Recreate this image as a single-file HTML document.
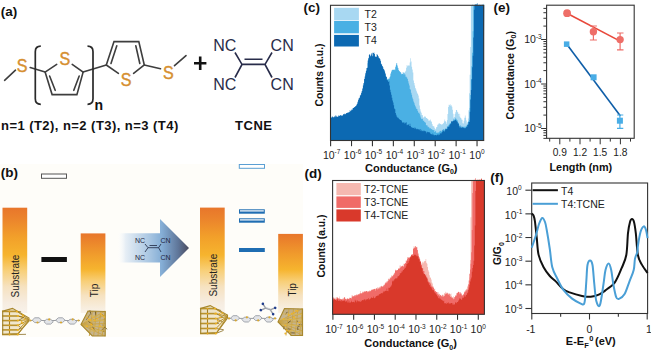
<!DOCTYPE html><html><head><meta charset="utf-8"><style>html,body{margin:0;padding:0;background:#fff;width:651px;height:355px;overflow:hidden}svg{display:block}text{font-family:"Liberation Sans",sans-serif}</style></head><body>
<svg width="651" height="355" viewBox="0 0 651 355">
<defs><linearGradient id="bar" x1="0" y1="0" x2="0" y2="1"><stop offset="0" stop-color="#e8762b"/><stop offset="0.1" stop-color="#eb832c"/><stop offset="0.28" stop-color="#f2a02a"/><stop offset="0.45" stop-color="#f6b42e"/><stop offset="0.6" stop-color="#f8d07a"/><stop offset="0.75" stop-color="#f6e2c0"/><stop offset="0.9" stop-color="#f6ece0"/><stop offset="1" stop-color="#f8f2ea"/></linearGradient><linearGradient id="bar2" x1="0" y1="0" x2="0" y2="1"><stop offset="0" stop-color="#e8762b"/><stop offset="0.25" stop-color="#f09a2c"/><stop offset="0.45" stop-color="#f6b42e"/><stop offset="0.6" stop-color="#f8cf78"/><stop offset="0.78" stop-color="#f6e2c0"/><stop offset="1" stop-color="#f8f2ea"/></linearGradient><linearGradient id="arr" x1="117" y1="0" x2="189" y2="0" gradientUnits="userSpaceOnUse"><stop offset="0" stop-color="#ffffff" stop-opacity="0"/><stop offset="0.12" stop-color="#e6eef5"/><stop offset="0.45" stop-color="#a9c6e2"/><stop offset="0.62" stop-color="#85aed6"/><stop offset="0.85" stop-color="#5f7699"/><stop offset="1" stop-color="#4a4a5e"/></linearGradient></defs>
<rect x="0" y="164" width="303" height="173" fill="#fefdf9"/>
<text x="0.8" y="15.5" font-size="13.5" font-weight="bold" fill="#111">(a)</text>
<g stroke="#3e3e3e" stroke-width="1.6" fill="none" stroke-linecap="round">
<path d="M4.6,80.3 L15.5,70.2"/>
<path d="M30.2,67.6 L45.1,72.1"/>
<path d="M45.1,72.1 L56.7,64.4 M72.2,64.4 L83.1,72.1 L76.9,94.6 L52.1,94.6 L45.1,72.1"/>
<path d="M49.6,76 L55.2,90.3 M79.2,76 L73.8,90.3"/>
<path d="M83.1,72.1 L106.3,65"/>
<path d="M106.3,65 L114,41.6 L138.8,41.6 L144.3,65 L133.6,73.3 M118.4,73.3 L106.3,65"/>
<path d="M111,63.5 L116.8,45.8 M139.8,63.5 L135.8,45.8"/>
<path d="M144.3,65 L160.5,68.8 M174.5,65.7 L186,55.6"/>
</g>
<path d="M40.8,46.2 Q35.3,46.2 35.3,51.7 L35.3,98.8 Q35.3,104.3 40.8,104.3 M87.5,46.2 Q93,46.2 93,51.7 L93,98.8 Q93,104.3 87.5,104.3" stroke="#2a2a2a" stroke-width="1.7" fill="none"/>
<text transform="translate(16.8,71.5) scale(0.92,1)" font-size="17.5" fill="#d68f30" stroke="#d68f30" stroke-width="0.45">S</text>
<text transform="translate(59.5,64.9) scale(0.92,1)" font-size="17.5" fill="#d68f30" stroke="#d68f30" stroke-width="0.45">S</text>
<text transform="translate(120.7,85.6) scale(0.92,1)" font-size="17.5" fill="#d68f30" stroke="#d68f30" stroke-width="0.45">S</text>
<text transform="translate(162.9,78.7) scale(0.92,1)" font-size="17.5" fill="#d68f30" stroke="#d68f30" stroke-width="0.45">S</text>
<text x="94.5" y="109.6" font-size="14" font-weight="bold" fill="#111">n</text>
<text x="1" y="129.8" font-size="13" font-weight="bold" fill="#111" letter-spacing="0.45">n=1 (T2), n=2 (T3), n=3 (T4)</text>
<text x="235" y="130.2" font-size="13" font-weight="bold" fill="#111" letter-spacing="0.55">TCNE</text>
<path d="M194,63.2 L206.4,63.2 M200.2,56.6 L200.2,70" stroke="#111" stroke-width="2.6"/>
<text x="213.2" y="50.6" font-size="16" fill="#282c4a">NC</text>
<text x="270.6" y="50.6" font-size="16" fill="#282c4a">CN</text>
<text x="213.2" y="90.4" font-size="16" fill="#282c4a">NC</text>
<text x="270.6" y="90.4" font-size="16" fill="#282c4a">CN</text>
<path d="M235,52.5 L242,64.4 L235,77.5 M242,64.4 L265,64.4 M272,52.5 L265,64.4 L272,77.5 M244.5,59.3 L262.5,59.3" stroke="#282c4a" stroke-width="1.6" fill="none"/>
<text x="0.8" y="177" font-size="13.5" font-weight="bold" fill="#111">(b)</text>
<rect x="41.5" y="174" width="25" height="4.3" fill="#fff" stroke="#555" stroke-width="1"/>
<rect x="41.4" y="257" width="25.5" height="5" fill="#111"/>
<rect x="2.5" y="207.7" width="24.7" height="105.30000000000001" fill="url(#bar)"/>
<rect x="80.7" y="233.4" width="24.7" height="79.6" fill="url(#bar2)"/>
<rect x="200" y="207.6" width="24.7" height="105.4" fill="url(#bar)"/>
<rect x="278.2" y="233.9" width="24.7" height="79.1" fill="url(#bar2)"/>
<text transform="translate(19.3,297.5) rotate(-90)" font-size="10" fill="#222">Substrate</text>
<text transform="translate(97.6,297.3) rotate(-90)" font-size="10" fill="#222">Tip</text>
<text transform="translate(216.8,296.6) rotate(-90)" font-size="10" fill="#222">Substrate</text>
<text transform="translate(296.2,296.6) rotate(-90)" font-size="10" fill="#222">Tip</text>
<path d="M117,233.3 L160,233.3 L160,219 L189,248 L160,277 L160,262.5 L117,262.5 Z" fill="url(#arr)"/>
<text x="135" y="243" font-size="7" fill="#1e2640">NC</text><text x="160.5" y="243" font-size="7" fill="#1e2640">CN</text>
<text x="135" y="260" font-size="7" fill="#1e2640">NC</text><text x="160.5" y="260" font-size="7" fill="#1e2640">CN</text>
<path d="M145,244 L148,247.7 L145,252 M148,247.7 L158.6,247.7 M161,244 L158.6,247.7 L161,252 M149.5,245.5 L157,245.5" stroke="#1e2640" stroke-width="0.8" fill="none"/>
<rect x="239.3" y="164.5" width="25.2" height="3.8" fill="#fff" stroke="#5a9fd4" stroke-width="1"/>
<rect x="239" y="209.3" width="25.8" height="4.4" fill="#1f6db2"/><rect x="240" y="210.3" width="23.8" height="1.2" fill="#fff"/>
<rect x="239" y="218.3" width="25.8" height="4.4" fill="#1f6db2"/><rect x="240" y="219.3" width="23.8" height="1.2" fill="#fff"/>
<rect x="239" y="248" width="25.8" height="4" fill="#1f6db2"/>
<polygon points="2.0,311.4 12.5,308.4 29.0,318.1 29.0,321.1 18.0,333.5 2.0,334.5" fill="#e6d6a8" opacity="0.55"/><line x1="2.0" y1="311.4" x2="16.9" y2="311.4" stroke="#b8922e" stroke-width="1.6"/><line x1="2.0" y1="316.0" x2="18.0" y2="316.0" stroke="#b8922e" stroke-width="1.6"/><line x1="2.0" y1="320.6" x2="18.0" y2="320.6" stroke="#b8922e" stroke-width="1.6"/><line x1="2.0" y1="325.3" x2="18.0" y2="325.3" stroke="#b8922e" stroke-width="1.6"/><line x1="2.0" y1="329.9" x2="18.0" y2="329.9" stroke="#b8922e" stroke-width="1.6"/><line x1="2.0" y1="334.5" x2="18.0" y2="334.5" stroke="#b8922e" stroke-width="1.6"/><line x1="2.7" y1="310.9" x2="2.7" y2="334.5" stroke="#a0802a" stroke-width="1.1"/><line x1="9.5" y1="310.9" x2="9.5" y2="334.5" stroke="#a0802a" stroke-width="1.1"/><line x1="16.9" y1="311.4" x2="29.0" y2="319.6" stroke="#b8922e" stroke-width="1"/><line x1="16.9" y1="311.4" x2="21.1" y2="311.8" stroke="#8a6e26" stroke-width="0.8"/><line x1="18.0" y1="316.0" x2="29.0" y2="319.6" stroke="#b8922e" stroke-width="1"/><line x1="18.0" y1="316.0" x2="22.8" y2="316.9" stroke="#8a6e26" stroke-width="0.8"/><line x1="18.0" y1="320.6" x2="29.0" y2="319.6" stroke="#b8922e" stroke-width="1"/><line x1="18.0" y1="320.6" x2="24.1" y2="317.2" stroke="#8a6e26" stroke-width="0.8"/><line x1="18.0" y1="325.3" x2="29.0" y2="319.6" stroke="#b8922e" stroke-width="1"/><line x1="18.0" y1="325.3" x2="21.1" y2="328.0" stroke="#8a6e26" stroke-width="0.8"/><line x1="18.0" y1="329.9" x2="29.0" y2="319.6" stroke="#b8922e" stroke-width="1"/><line x1="18.0" y1="329.9" x2="22.3" y2="327.8" stroke="#8a6e26" stroke-width="0.8"/><line x1="18.0" y1="334.5" x2="29.0" y2="319.6" stroke="#b8922e" stroke-width="1"/><line x1="18.0" y1="334.5" x2="26.0" y2="334.3" stroke="#8a6e26" stroke-width="0.8"/><polyline points="2.0,311.4 12.5,308.4 29.0,318.1 29.0,321.1 18.0,333.5 2.0,334.5" fill="none" stroke="#a8862a" stroke-width="1.1"/><circle cx="16.9" cy="311.4" r="1" fill="#f0b420"/><circle cx="9.5" cy="311.4" r="0.9" fill="#e8a820"/><circle cx="18.0" cy="316.0" r="1" fill="#f0b420"/><circle cx="9.5" cy="316.0" r="0.9" fill="#e8a820"/><circle cx="18.0" cy="320.6" r="1" fill="#f0b420"/><circle cx="9.5" cy="320.6" r="0.9" fill="#e8a820"/><circle cx="18.0" cy="325.3" r="1" fill="#f0b420"/><circle cx="9.5" cy="325.3" r="0.9" fill="#e8a820"/><circle cx="18.0" cy="329.9" r="1" fill="#f0b420"/><circle cx="9.5" cy="329.9" r="0.9" fill="#e8a820"/><circle cx="18.0" cy="334.5" r="1" fill="#f0b420"/><circle cx="9.5" cy="334.5" r="0.9" fill="#e8a820"/><circle cx="24.5" cy="319.4" r="0.9" fill="#eab028"/><circle cx="22.8" cy="316.1" r="0.9" fill="#eab028"/><circle cx="22.7" cy="323.3" r="0.9" fill="#eab028"/><circle cx="21.7" cy="322.0" r="0.9" fill="#eab028"/><circle cx="23.0" cy="315.2" r="0.9" fill="#eab028"/>
<polygon points="81.0,324.5 88.0,311.0 105.2,311.5 105.2,336.0 92.3,336.0" fill="#a08444" opacity="0.6"/><line x1="81.0" y1="324.5" x2="105.2" y2="311.0" stroke="#c9a444" stroke-width="0.9"/><line x1="81.0" y1="324.5" x2="105.2" y2="315.2" stroke="#c9a444" stroke-width="0.9"/><line x1="81.0" y1="324.5" x2="105.2" y2="319.3" stroke="#c9a444" stroke-width="0.9"/><line x1="81.0" y1="324.5" x2="105.2" y2="323.5" stroke="#c9a444" stroke-width="0.9"/><line x1="81.0" y1="324.5" x2="105.2" y2="327.7" stroke="#c9a444" stroke-width="0.9"/><line x1="81.0" y1="324.5" x2="105.2" y2="331.8" stroke="#c9a444" stroke-width="0.9"/><line x1="81.0" y1="324.5" x2="105.2" y2="336.0" stroke="#c9a444" stroke-width="0.9"/><line x1="91.1" y1="314.4" x2="89.8" y2="310.2" stroke="#5e4a1c" stroke-width="0.8"/><line x1="88.1" y1="321.2" x2="93.2" y2="324.8" stroke="#5e4a1c" stroke-width="0.8"/><line x1="100.2" y1="317.1" x2="100.6" y2="314.4" stroke="#5e4a1c" stroke-width="0.8"/><line x1="90.0" y1="314.4" x2="86.5" y2="319.6" stroke="#5e4a1c" stroke-width="0.8"/><line x1="101.3" y1="330.6" x2="104.9" y2="326.9" stroke="#5e4a1c" stroke-width="0.8"/><line x1="92.3" y1="326.4" x2="95.1" y2="330.7" stroke="#5e4a1c" stroke-width="0.8"/><line x1="102.1" y1="314.0" x2="103.4" y2="316.1" stroke="#5e4a1c" stroke-width="0.8"/><line x1="95.7" y1="316.1" x2="95.4" y2="311.2" stroke="#5e4a1c" stroke-width="0.8"/><line x1="103.1" y1="331.9" x2="103.6" y2="329.5" stroke="#5e4a1c" stroke-width="0.8"/><line x1="102.6" y1="325.2" x2="107.2" y2="329.3" stroke="#5e4a1c" stroke-width="0.8"/><line x1="92.3" y1="311.3" x2="89.3" y2="336.0" stroke="#c9a444" stroke-width="0.9"/><line x1="96.6" y1="311.3" x2="93.6" y2="336.0" stroke="#c9a444" stroke-width="0.9"/><line x1="100.9" y1="311.3" x2="97.9" y2="336.0" stroke="#c9a444" stroke-width="0.9"/><line x1="105.2" y1="311.3" x2="102.2" y2="336.0" stroke="#c9a444" stroke-width="0.9"/><line x1="86.4" y1="316.0" x2="105.2" y2="316.0" stroke="#d8b450" stroke-width="0.9"/><line x1="83.8" y1="321.0" x2="105.2" y2="320.7" stroke="#d8b450" stroke-width="0.9"/><line x1="83.5" y1="326.0" x2="105.2" y2="326.4" stroke="#d8b450" stroke-width="0.9"/><line x1="88.4" y1="331.0" x2="105.2" y2="330.7" stroke="#d8b450" stroke-width="0.9"/><polygon points="81.0,324.5 88.0,311.0 105.2,311.5 105.2,336.0 92.3,336.0" fill="none" stroke="#a8882e" stroke-width="1.2"/><circle cx="88.9" cy="319.4" r="0.9" fill="#f0b428"/><circle cx="100.8" cy="313.9" r="0.9" fill="#f0b428"/><circle cx="86.8" cy="326.2" r="0.9" fill="#f0b428"/><circle cx="91.1" cy="324.2" r="0.9" fill="#f0b428"/><circle cx="94.6" cy="320.2" r="0.9" fill="#f0b428"/><circle cx="104.2" cy="317.1" r="0.9" fill="#f0b428"/><circle cx="93.5" cy="317.3" r="0.9" fill="#f0b428"/><circle cx="97.5" cy="318.8" r="0.9" fill="#f0b428"/><circle cx="92.5" cy="328.7" r="0.9" fill="#f0b428"/><circle cx="91.8" cy="324.7" r="0.9" fill="#f0b428"/><circle cx="102.5" cy="315.1" r="0.9" fill="#f0b428"/><circle cx="87.1" cy="317.8" r="0.9" fill="#f0b428"/><circle cx="99.9" cy="325.9" r="0.9" fill="#f0b428"/><circle cx="90.3" cy="320.0" r="0.9" fill="#f0b428"/>
<polygon points="200.0,308.6 210.2,305.6 227.5,315.0 227.5,318.0 217.0,332.5 200.0,333.5" fill="#e6d6a8" opacity="0.55"/><line x1="200.0" y1="308.6" x2="215.0" y2="308.6" stroke="#b8922e" stroke-width="1.6"/><line x1="200.0" y1="313.6" x2="216.0" y2="313.6" stroke="#b8922e" stroke-width="1.6"/><line x1="200.0" y1="318.6" x2="216.0" y2="318.6" stroke="#b8922e" stroke-width="1.6"/><line x1="200.0" y1="323.5" x2="216.0" y2="323.5" stroke="#b8922e" stroke-width="1.6"/><line x1="200.0" y1="328.5" x2="216.0" y2="328.5" stroke="#b8922e" stroke-width="1.6"/><line x1="200.0" y1="333.5" x2="216.0" y2="333.5" stroke="#b8922e" stroke-width="1.6"/><line x1="200.7" y1="308.1" x2="200.7" y2="333.5" stroke="#a0802a" stroke-width="1.1"/><line x1="207.5" y1="308.1" x2="207.5" y2="333.5" stroke="#a0802a" stroke-width="1.1"/><line x1="215.0" y1="308.6" x2="227.5" y2="316.5" stroke="#b8922e" stroke-width="1"/><line x1="215.0" y1="308.6" x2="221.1" y2="310.5" stroke="#8a6e26" stroke-width="0.8"/><line x1="216.0" y1="313.6" x2="227.5" y2="316.5" stroke="#b8922e" stroke-width="1"/><line x1="216.0" y1="313.6" x2="223.0" y2="317.1" stroke="#8a6e26" stroke-width="0.8"/><line x1="216.0" y1="318.6" x2="227.5" y2="316.5" stroke="#b8922e" stroke-width="1"/><line x1="216.0" y1="318.6" x2="222.7" y2="321.9" stroke="#8a6e26" stroke-width="0.8"/><line x1="216.0" y1="323.5" x2="227.5" y2="316.5" stroke="#b8922e" stroke-width="1"/><line x1="216.0" y1="323.5" x2="219.1" y2="323.3" stroke="#8a6e26" stroke-width="0.8"/><line x1="216.0" y1="328.5" x2="227.5" y2="316.5" stroke="#b8922e" stroke-width="1"/><line x1="216.0" y1="328.5" x2="223.7" y2="329.7" stroke="#8a6e26" stroke-width="0.8"/><line x1="216.0" y1="333.5" x2="227.5" y2="316.5" stroke="#b8922e" stroke-width="1"/><line x1="216.0" y1="333.5" x2="223.5" y2="330.4" stroke="#8a6e26" stroke-width="0.8"/><polyline points="200.0,308.6 210.2,305.6 227.5,315.0 227.5,318.0 217.0,332.5 200.0,333.5" fill="none" stroke="#a8862a" stroke-width="1.1"/><circle cx="215.0" cy="308.6" r="1" fill="#f0b420"/><circle cx="207.5" cy="308.6" r="0.9" fill="#e8a820"/><circle cx="216.0" cy="313.6" r="1" fill="#f0b420"/><circle cx="207.5" cy="313.6" r="0.9" fill="#e8a820"/><circle cx="216.0" cy="318.6" r="1" fill="#f0b420"/><circle cx="207.5" cy="318.6" r="0.9" fill="#e8a820"/><circle cx="216.0" cy="323.5" r="1" fill="#f0b420"/><circle cx="207.5" cy="323.5" r="0.9" fill="#e8a820"/><circle cx="216.0" cy="328.5" r="1" fill="#f0b420"/><circle cx="207.5" cy="328.5" r="0.9" fill="#e8a820"/><circle cx="216.0" cy="333.5" r="1" fill="#f0b420"/><circle cx="207.5" cy="333.5" r="0.9" fill="#e8a820"/><circle cx="219.5" cy="314.0" r="0.9" fill="#eab028"/><circle cx="220.2" cy="317.2" r="0.9" fill="#eab028"/><circle cx="215.1" cy="313.7" r="0.9" fill="#eab028"/><circle cx="217.7" cy="320.7" r="0.9" fill="#eab028"/><circle cx="222.3" cy="313.1" r="0.9" fill="#eab028"/>
<polygon points="278.0,322.0 284.5,308.5 302.5,309.0 302.5,335.5 291.3,335.5" fill="#a08444" opacity="0.6"/><line x1="278.0" y1="322.0" x2="302.5" y2="308.5" stroke="#c9a444" stroke-width="0.9"/><line x1="278.0" y1="322.0" x2="302.5" y2="313.0" stroke="#c9a444" stroke-width="0.9"/><line x1="278.0" y1="322.0" x2="302.5" y2="317.5" stroke="#c9a444" stroke-width="0.9"/><line x1="278.0" y1="322.0" x2="302.5" y2="322.0" stroke="#c9a444" stroke-width="0.9"/><line x1="278.0" y1="322.0" x2="302.5" y2="326.5" stroke="#c9a444" stroke-width="0.9"/><line x1="278.0" y1="322.0" x2="302.5" y2="331.0" stroke="#c9a444" stroke-width="0.9"/><line x1="278.0" y1="322.0" x2="302.5" y2="335.5" stroke="#c9a444" stroke-width="0.9"/><line x1="297.9" y1="330.0" x2="297.7" y2="327.2" stroke="#5e4a1c" stroke-width="0.8"/><line x1="284.0" y1="326.1" x2="283.7" y2="329.2" stroke="#5e4a1c" stroke-width="0.8"/><line x1="290.5" y1="328.8" x2="287.8" y2="332.4" stroke="#5e4a1c" stroke-width="0.8"/><line x1="296.8" y1="319.9" x2="297.2" y2="322.0" stroke="#5e4a1c" stroke-width="0.8"/><line x1="287.4" y1="323.3" x2="291.0" y2="320.5" stroke="#5e4a1c" stroke-width="0.8"/><line x1="298.1" y1="326.6" x2="302.2" y2="324.7" stroke="#5e4a1c" stroke-width="0.8"/><line x1="285.6" y1="329.5" x2="289.3" y2="328.8" stroke="#5e4a1c" stroke-width="0.8"/><line x1="285.6" y1="314.4" x2="287.3" y2="311.9" stroke="#5e4a1c" stroke-width="0.8"/><line x1="300.6" y1="324.2" x2="297.1" y2="326.1" stroke="#5e4a1c" stroke-width="0.8"/><line x1="290.3" y1="332.8" x2="295.2" y2="333.0" stroke="#5e4a1c" stroke-width="0.8"/><line x1="289.0" y1="308.8" x2="286.0" y2="335.5" stroke="#c9a444" stroke-width="0.9"/><line x1="293.5" y1="308.8" x2="290.5" y2="335.5" stroke="#c9a444" stroke-width="0.9"/><line x1="298.0" y1="308.8" x2="295.0" y2="335.5" stroke="#c9a444" stroke-width="0.9"/><line x1="302.5" y1="308.8" x2="299.5" y2="335.5" stroke="#c9a444" stroke-width="0.9"/><line x1="282.9" y1="313.9" x2="302.5" y2="314.5" stroke="#d8b450" stroke-width="0.9"/><line x1="280.3" y1="319.3" x2="302.5" y2="320.1" stroke="#d8b450" stroke-width="0.9"/><line x1="281.7" y1="324.7" x2="302.5" y2="325.9" stroke="#d8b450" stroke-width="0.9"/><line x1="287.0" y1="330.1" x2="302.5" y2="332.0" stroke="#d8b450" stroke-width="0.9"/><polygon points="278.0,322.0 284.5,308.5 302.5,309.0 302.5,335.5 291.3,335.5" fill="none" stroke="#a8882e" stroke-width="1.2"/><circle cx="283.5" cy="318.8" r="0.9" fill="#f0b428"/><circle cx="294.1" cy="317.5" r="0.9" fill="#f0b428"/><circle cx="293.9" cy="312.6" r="0.9" fill="#f0b428"/><circle cx="299.3" cy="322.6" r="0.9" fill="#f0b428"/><circle cx="285.2" cy="325.7" r="0.9" fill="#f0b428"/><circle cx="288.8" cy="315.0" r="0.9" fill="#f0b428"/><circle cx="291.9" cy="313.7" r="0.9" fill="#f0b428"/><circle cx="286.9" cy="330.4" r="0.9" fill="#f0b428"/><circle cx="295.9" cy="310.8" r="0.9" fill="#f0b428"/><circle cx="297.4" cy="310.9" r="0.9" fill="#f0b428"/><circle cx="289.2" cy="331.3" r="0.9" fill="#f0b428"/><circle cx="294.5" cy="317.5" r="0.9" fill="#f0b428"/><circle cx="290.0" cy="319.5" r="0.9" fill="#f0b428"/><circle cx="285.3" cy="333.5" r="0.9" fill="#f0b428"/>
<path d="M29,320.5 L80,320.5" stroke="#9a9ca0" stroke-width="1"/><polygon points="32.2,320.2 34.8,317.8 39.0,317.8 41.6,320.2 39.0,322.6 34.8,322.6" fill="#e2e4e8" stroke="#9a9ea6" stroke-width="0.9"/><circle cx="37.5" cy="322.5" r="1.1" fill="#d9a830"/><polygon points="43.9,321.7 46.5,319.3 50.7,319.3 53.3,321.7 50.7,324.1 46.5,324.1" fill="#e2e4e8" stroke="#9a9ea6" stroke-width="0.9"/><circle cx="49.2" cy="319.4" r="1.1" fill="#d9a830"/><polygon points="55.7,320.2 58.3,317.8 62.5,317.8 65.1,320.2 62.5,322.6 58.3,322.6" fill="#e2e4e8" stroke="#9a9ea6" stroke-width="0.9"/><circle cx="61.0" cy="322.5" r="1.1" fill="#d9a830"/><polygon points="67.4,321.7 70.0,319.3 74.2,319.3 76.8,321.7 74.2,324.1 70.0,324.1" fill="#e2e4e8" stroke="#9a9ea6" stroke-width="0.9"/><circle cx="72.7" cy="319.4" r="1.1" fill="#d9a830"/><circle cx="30.5" cy="320.5" r="1.1" fill="#d6a838"/><circle cx="78.5" cy="320.5" r="1.1" fill="#d6a838"/>
<path d="M227.5,318.4 L276.5,318.4" stroke="#9a9ca0" stroke-width="1"/><polygon points="230.6,318.1 233.1,315.7 237.2,315.7 239.6,318.1 237.2,320.5 233.1,320.5" fill="#e2e4e8" stroke="#9a9ea6" stroke-width="0.9"/><circle cx="235.7" cy="320.4" r="1.1" fill="#d9a830"/><polygon points="241.9,319.6 244.3,317.2 248.4,317.2 250.9,319.6 248.4,322.0 244.3,322.0" fill="#e2e4e8" stroke="#9a9ea6" stroke-width="0.9"/><circle cx="246.9" cy="317.3" r="1.1" fill="#d9a830"/><polygon points="253.1,318.1 255.6,315.7 259.6,315.7 262.1,318.1 259.6,320.5 255.6,320.5" fill="#e2e4e8" stroke="#9a9ea6" stroke-width="0.9"/><circle cx="258.2" cy="320.4" r="1.1" fill="#d9a830"/><polygon points="264.4,319.6 266.9,317.2 270.9,317.2 273.4,319.6 270.9,322.0 266.9,322.0" fill="#e2e4e8" stroke="#9a9ea6" stroke-width="0.9"/><circle cx="269.4" cy="317.3" r="1.1" fill="#d9a830"/><circle cx="229.0" cy="318.4" r="1.1" fill="#d6a838"/><circle cx="275.0" cy="318.4" r="1.1" fill="#d6a838"/>
<g transform="translate(268,309) rotate(18)"><path d="M-6,-3 L-2.5,0 L2.5,0 L6,-3 M-6,3 L-2.5,0 M2.5,0 L6,3" stroke="#9ca0a8" stroke-width="1.4" fill="none"/><path d="M-2.5,-0.8 L2.5,-0.8" stroke="#c8ccd2" stroke-width="0.8"/><circle cx="-6.5" cy="-3.3" r="1.3" fill="#1f3c8c"/><circle cx="6.5" cy="-3.3" r="1.3" fill="#1f3c8c"/><circle cx="-6.5" cy="3.3" r="1.3" fill="#1f3c8c"/><circle cx="6.5" cy="3.3" r="1.3" fill="#1f3c8c"/></g>
<text x="303.6" y="12.1" font-size="13.5" font-weight="bold" fill="#111">(c)</text>
<path d="M330.5,140.5 L330.50,120.41 L331.10,120.41 L331.10,121.13 L331.70,121.13 L331.70,120.25 L332.30,120.25 L332.30,119.53 L332.90,119.53 L332.90,120.20 L333.50,120.20 L333.50,119.10 L334.10,119.10 L334.10,118.96 L334.70,118.96 L334.70,117.75 L335.30,117.75 L335.30,120.28 L335.90,120.28 L335.90,119.53 L336.50,119.53 L336.50,118.34 L337.10,118.34 L337.10,118.30 L337.70,118.30 L337.70,117.49 L338.30,117.49 L338.30,118.76 L338.90,118.76 L338.90,118.78 L339.50,118.78 L339.50,118.63 L340.10,118.63 L340.10,118.44 L340.70,118.44 L340.70,119.30 L341.30,119.30 L341.30,118.83 L341.90,118.83 L341.90,117.71 L342.50,117.71 L342.50,115.79 L343.10,115.79 L343.10,117.50 L343.70,117.50 L343.70,117.29 L344.30,117.29 L344.30,117.48 L344.90,117.48 L344.90,117.87 L345.50,117.87 L345.50,117.82 L346.10,117.82 L346.10,116.00 L346.70,116.00 L346.70,117.09 L347.30,117.09 L347.30,115.50 L347.90,115.50 L347.90,116.56 L348.50,116.56 L348.50,114.52 L349.10,114.52 L349.10,112.21 L349.70,112.21 L349.70,113.59 L350.30,113.59 L350.30,113.56 L350.90,113.56 L350.90,113.55 L351.50,113.55 L351.50,112.88 L352.10,112.88 L352.10,111.99 L352.70,111.99 L352.70,111.23 L353.30,111.23 L353.30,111.70 L353.90,111.70 L353.90,111.35 L354.50,111.35 L354.50,109.98 L355.10,109.98 L355.10,109.94 L355.70,109.94 L355.70,109.76 L356.30,109.76 L356.30,107.58 L356.90,107.58 L356.90,106.84 L357.50,106.84 L357.50,103.38 L358.10,103.38 L358.10,103.08 L358.70,103.08 L358.70,101.70 L359.30,101.70 L359.30,101.42 L359.90,101.42 L359.90,99.40 L360.50,99.40 L360.50,97.35 L361.10,97.35 L361.10,97.33 L361.70,97.33 L361.70,94.31 L362.30,94.31 L362.30,92.38 L362.90,92.38 L362.90,88.60 L363.50,88.60 L363.50,86.93 L364.10,86.93 L364.10,82.73 L364.70,82.73 L364.70,78.66 L365.30,78.66 L365.30,75.65 L365.90,75.65 L365.90,73.31 L366.50,73.31 L366.50,72.05 L367.10,72.05 L367.10,69.42 L367.70,69.42 L367.70,63.22 L368.30,63.22 L368.30,60.68 L368.90,60.68 L368.90,58.12 L369.50,58.12 L369.50,58.25 L370.10,58.25 L370.10,59.03 L370.70,59.03 L370.70,58.56 L371.30,58.56 L371.30,56.96 L371.90,56.96 L371.90,56.54 L372.50,56.54 L372.50,60.56 L373.10,60.56 L373.10,56.28 L373.70,56.28 L373.70,56.15 L374.30,56.15 L374.30,54.76 L374.90,54.76 L374.90,60.45 L375.50,60.45 L375.50,59.40 L376.10,59.40 L376.10,60.41 L376.70,60.41 L376.70,56.87 L377.30,56.87 L377.30,56.44 L377.90,56.44 L377.90,60.16 L378.50,60.16 L378.50,61.56 L379.10,61.56 L379.10,61.86 L379.70,61.86 L379.70,61.73 L380.30,61.73 L380.30,65.43 L380.90,65.43 L380.90,65.82 L381.50,65.82 L381.50,68.18 L382.10,68.18 L382.10,69.61 L382.70,69.61 L382.70,70.85 L383.30,70.85 L383.30,71.01 L383.90,71.01 L383.90,73.71 L384.50,73.71 L384.50,74.95 L385.10,74.95 L385.10,76.81 L385.70,76.81 L385.70,79.18 L386.30,79.18 L386.30,79.99 L386.90,79.99 L386.90,79.38 L387.50,79.38 L387.50,79.68 L388.10,79.68 L388.10,79.56 L388.70,79.56 L388.70,78.89 L389.30,78.89 L389.30,77.07 L389.90,77.07 L389.90,76.66 L390.50,76.66 L390.50,73.25 L391.10,73.25 L391.10,71.64 L391.70,71.64 L391.70,70.81 L392.30,70.81 L392.30,70.40 L392.90,70.40 L392.90,69.98 L393.50,69.98 L393.50,70.85 L394.10,70.85 L394.10,69.89 L394.70,69.89 L394.70,69.77 L395.30,69.77 L395.30,67.63 L395.90,67.63 L395.90,65.79 L396.50,65.79 L396.50,63.51 L397.10,63.51 L397.10,64.89 L397.70,64.89 L397.70,67.87 L398.30,67.87 L398.30,69.65 L398.90,69.65 L398.90,70.70 L399.50,70.70 L399.50,72.23 L400.10,72.23 L400.10,72.37 L400.70,72.37 L400.70,72.55 L401.30,72.55 L401.30,74.47 L401.90,74.47 L401.90,74.82 L402.50,74.82 L402.50,72.28 L403.10,72.28 L403.10,73.31 L403.70,73.31 L403.70,72.56 L404.30,72.56 L404.30,72.87 L404.90,72.87 L404.90,71.82 L405.50,71.82 L405.50,70.73 L406.10,70.73 L406.10,67.73 L406.70,67.73 L406.70,65.03 L407.30,65.03 L407.30,66.32 L407.90,66.32 L407.90,65.27 L408.50,65.27 L408.50,65.78 L409.10,65.78 L409.10,65.38 L409.70,65.38 L409.70,62.61 L410.30,62.61 L410.30,58.18 L410.90,58.18 L410.90,61.53 L411.50,61.53 L411.50,66.84 L412.10,66.84 L412.10,69.51 L412.70,69.51 L412.70,72.62 L413.30,72.62 L413.30,80.53 L413.90,80.53 L413.90,82.93 L414.50,82.93 L414.50,85.47 L415.10,85.47 L415.10,88.07 L415.70,88.07 L415.70,89.39 L416.30,89.39 L416.30,91.22 L416.90,91.22 L416.90,92.80 L417.50,92.80 L417.50,93.88 L418.10,93.88 L418.10,95.50 L418.70,95.50 L418.70,98.46 L419.30,98.46 L419.30,105.44 L419.90,105.44 L419.90,109.20 L420.50,109.20 L420.50,111.42 L421.10,111.42 L421.10,112.81 L421.70,112.81 L421.70,115.12 L422.30,115.12 L422.30,115.17 L422.90,115.17 L422.90,117.40 L423.50,117.40 L423.50,117.39 L424.10,117.39 L424.10,116.86 L424.70,116.86 L424.70,115.94 L425.30,115.94 L425.30,116.94 L425.90,116.94 L425.90,117.89 L426.50,117.89 L426.50,118.10 L427.10,118.10 L427.10,118.75 L427.70,118.75 L427.70,119.02 L428.30,119.02 L428.30,120.53 L428.90,120.53 L428.90,120.88 L429.50,120.88 L429.50,119.99 L430.10,119.99 L430.10,119.38 L430.70,119.38 L430.70,121.27 L431.30,121.27 L431.30,121.75 L431.90,121.75 L431.90,123.97 L432.50,123.97 L432.50,125.82 L433.10,125.82 L433.10,126.21 L433.70,126.21 L433.70,126.33 L434.30,126.33 L434.30,127.83 L434.90,127.83 L434.90,129.62 L435.50,129.62 L435.50,128.64 L436.10,128.64 L436.10,127.34 L436.70,127.34 L436.70,126.96 L437.30,126.96 L437.30,124.69 L437.90,124.69 L437.90,124.41 L438.50,124.41 L438.50,123.53 L439.10,123.53 L439.10,123.34 L439.70,123.34 L439.70,123.71 L440.30,123.71 L440.30,123.88 L440.90,123.88 L440.90,124.42 L441.50,124.42 L441.50,124.62 L442.10,124.62 L442.10,124.22 L442.70,124.22 L442.70,123.66 L443.30,123.66 L443.30,122.90 L443.90,122.90 L443.90,121.44 L444.50,121.44 L444.50,119.56 L445.10,119.56 L445.10,120.88 L445.70,120.88 L445.70,122.12 L446.30,122.12 L446.30,123.69 L446.90,123.69 L446.90,120.17 L447.50,120.17 L447.50,114.11 L448.10,114.11 L448.10,107.05 L448.70,107.05 L448.70,104.78 L449.30,104.78 L449.30,105.28 L449.90,105.28 L449.90,104.20 L450.50,104.20 L450.50,105.81 L451.10,105.81 L451.10,105.22 L451.70,105.22 L451.70,106.84 L452.30,106.84 L452.30,109.79 L452.90,109.79 L452.90,113.83 L453.50,113.83 L453.50,117.75 L454.10,117.75 L454.10,117.06 L454.70,117.06 L454.70,114.08 L455.30,114.08 L455.30,112.24 L455.90,112.24 L455.90,109.92 L456.50,109.92 L456.50,110.02 L457.10,110.02 L457.10,111.86 L457.70,111.86 L457.70,112.54 L458.30,112.54 L458.30,114.06 L458.90,114.06 L458.90,116.62 L459.50,116.62 L459.50,113.79 L460.10,113.79 L460.10,117.42 L460.70,117.42 L460.70,118.06 L461.30,118.06 L461.30,119.40 L461.90,119.40 L461.90,119.64 L462.50,119.64 L462.50,123.26 L463.10,123.26 L463.10,123.49 L463.70,123.49 L463.70,120.83 L464.30,120.83 L464.30,117.83 L464.90,117.83 L464.90,115.46 L465.50,115.46 L465.50,117.79 L466.10,117.79 L466.10,120.56 L466.70,120.56 L466.70,123.56 L467.30,123.56 L467.30,122.15 L467.90,122.15 L467.90,118.41 L468.50,118.41 L468.50,110.18 L469.10,110.18 L469.10,93.28 L469.70,93.28 L469.70,74.83 L470.30,74.83 L470.30,47.01 L470.90,47.01 L470.90,5.78 L471.50,5.78 L471.50,5.13 L472.10,5.13 L472.10,4.53 L472.70,4.53 L472.70,4.46 L473.30,4.46 L473.30,5.55 L473.90,5.55 L473.90,4.82 L474.50,4.82 L474.50,5.60 L475.10,5.60 L475.10,5.59 L475.70,5.59 L475.70,5.36 L476.30,5.36 L476.30,6.20 L476.90,6.20 L476.90,5.66 L477.50,5.66 L477.50,4.81 L478.10,4.81 L478.10,5.73 L478.70,5.73 L478.70,4.69 L479.30,4.69 L479.30,4.52 L479.90,4.52 L479.90,6.03 L480.50,6.03 L480.50,5.31 L481.10,5.31 L481.10,5.42 L481.70,5.42 L481.70,5.55 L482.30,5.55 L482.30,4.54 L482.90,4.54 L482.90,3.72 L483.50,3.72 L483.50,4.69 L484.10,4.69 L483.7,140.5 Z" fill="#a8d8f2"/>
<path d="M330.5,140.5 L330.50,118.95 L331.10,118.95 L331.10,119.17 L331.70,119.17 L331.70,117.85 L332.30,117.85 L332.30,118.19 L332.90,118.19 L332.90,118.81 L333.50,118.81 L333.50,118.44 L334.10,118.44 L334.10,117.56 L334.70,117.56 L334.70,117.46 L335.30,117.46 L335.30,117.15 L335.90,117.15 L335.90,117.06 L336.50,117.06 L336.50,117.42 L337.10,117.42 L337.10,118.08 L337.70,118.08 L337.70,118.23 L338.30,118.23 L338.30,116.63 L338.90,116.63 L338.90,118.05 L339.50,118.05 L339.50,116.99 L340.10,116.99 L340.10,116.68 L340.70,116.68 L340.70,116.29 L341.30,116.29 L341.30,115.91 L341.90,115.91 L341.90,117.11 L342.50,117.11 L342.50,116.21 L343.10,116.21 L343.10,116.13 L343.70,116.13 L343.70,115.15 L344.30,115.15 L344.30,116.66 L344.90,116.66 L344.90,115.93 L345.50,115.93 L345.50,115.21 L346.10,115.21 L346.10,115.58 L346.70,115.58 L346.70,114.61 L347.30,114.61 L347.30,114.76 L347.90,114.76 L347.90,112.41 L348.50,112.41 L348.50,113.58 L349.10,113.58 L349.10,112.69 L349.70,112.69 L349.70,112.47 L350.30,112.47 L350.30,111.43 L350.90,111.43 L350.90,111.05 L351.50,111.05 L351.50,110.28 L352.10,110.28 L352.10,110.35 L352.70,110.35 L352.70,109.33 L353.30,109.33 L353.30,109.13 L353.90,109.13 L353.90,109.12 L354.50,109.12 L354.50,108.64 L355.10,108.64 L355.10,107.58 L355.70,107.58 L355.70,107.13 L356.30,107.13 L356.30,106.96 L356.90,106.96 L356.90,104.76 L357.50,104.76 L357.50,104.42 L358.10,104.42 L358.10,101.49 L358.70,101.49 L358.70,100.65 L359.30,100.65 L359.30,99.99 L359.90,99.99 L359.90,96.90 L360.50,96.90 L360.50,96.94 L361.10,96.94 L361.10,95.34 L361.70,95.34 L361.70,93.31 L362.30,93.31 L362.30,90.68 L362.90,90.68 L362.90,88.45 L363.50,88.45 L363.50,84.13 L364.10,84.13 L364.10,82.04 L364.70,82.04 L364.70,78.79 L365.30,78.79 L365.30,74.98 L365.90,74.98 L365.90,71.74 L366.50,71.74 L366.50,69.93 L367.10,69.93 L367.10,68.85 L367.70,68.85 L367.70,63.20 L368.30,63.20 L368.30,58.61 L368.90,58.61 L368.90,57.28 L369.50,57.28 L369.50,56.22 L370.10,56.22 L370.10,59.23 L370.70,59.23 L370.70,57.39 L371.30,57.39 L371.30,56.42 L371.90,56.42 L371.90,55.84 L372.50,55.84 L372.50,58.12 L373.10,58.12 L373.10,53.05 L373.70,53.05 L373.70,55.23 L374.30,55.23 L374.30,56.82 L374.90,56.82 L374.90,58.65 L375.50,58.65 L375.50,57.77 L376.10,57.77 L376.10,58.60 L376.70,58.60 L376.70,56.04 L377.30,56.04 L377.30,55.92 L377.90,55.92 L377.90,58.29 L378.50,58.29 L378.50,59.44 L379.10,59.44 L379.10,59.67 L379.70,59.67 L379.70,60.83 L380.30,60.83 L380.30,62.47 L380.90,62.47 L380.90,64.82 L381.50,64.82 L381.50,66.31 L382.10,66.31 L382.10,66.57 L382.70,66.57 L382.70,69.10 L383.30,69.10 L383.30,70.57 L383.90,70.57 L383.90,70.85 L384.50,70.85 L384.50,73.04 L385.10,73.04 L385.10,74.49 L385.70,74.49 L385.70,77.66 L386.30,77.66 L386.30,80.13 L386.90,80.13 L386.90,79.47 L387.50,79.47 L387.50,78.79 L388.10,78.79 L388.10,79.22 L388.70,79.22 L388.70,78.27 L389.30,78.27 L389.30,78.68 L389.90,78.68 L389.90,76.41 L390.50,76.41 L390.50,73.65 L391.10,73.65 L391.10,71.64 L391.70,71.64 L391.70,70.20 L392.30,70.20 L392.30,69.83 L392.90,69.83 L392.90,69.78 L393.50,69.78 L393.50,69.85 L394.10,69.85 L394.10,69.44 L394.70,69.44 L394.70,70.18 L395.30,70.18 L395.30,66.82 L395.90,66.82 L395.90,64.78 L396.50,64.78 L396.50,62.88 L397.10,62.88 L397.10,66.16 L397.70,66.16 L397.70,67.95 L398.30,67.95 L398.30,70.06 L398.90,70.06 L398.90,70.91 L399.50,70.91 L399.50,71.46 L400.10,71.46 L400.10,72.10 L400.70,72.10 L400.70,73.22 L401.30,73.22 L401.30,74.17 L401.90,74.17 L401.90,74.10 L402.50,74.10 L402.50,74.04 L403.10,74.04 L403.10,72.47 L403.70,72.47 L403.70,74.72 L404.30,74.72 L404.30,73.58 L404.90,73.58 L404.90,74.48 L405.50,74.48 L405.50,76.73 L406.10,76.73 L406.10,76.79 L406.70,76.79 L406.70,77.70 L407.30,77.70 L407.30,78.92 L407.90,78.92 L407.90,81.19 L408.50,81.19 L408.50,83.59 L409.10,83.59 L409.10,85.55 L409.70,85.55 L409.70,88.92 L410.30,88.92 L410.30,89.71 L410.90,89.71 L410.90,92.65 L411.50,92.65 L411.50,94.80 L412.10,94.80 L412.10,97.45 L412.70,97.45 L412.70,99.31 L413.30,99.31 L413.30,101.46 L413.90,101.46 L413.90,102.79 L414.50,102.79 L414.50,104.63 L415.10,104.63 L415.10,106.30 L415.70,106.30 L415.70,107.47 L416.30,107.47 L416.30,108.95 L416.90,108.95 L416.90,109.29 L417.50,109.29 L417.50,110.92 L418.10,110.92 L418.10,112.63 L418.70,112.63 L418.70,112.53 L419.30,112.53 L419.30,113.84 L419.90,113.84 L419.90,115.45 L420.50,115.45 L420.50,117.53 L421.10,117.53 L421.10,118.82 L421.70,118.82 L421.70,119.21 L422.30,119.21 L422.30,118.70 L422.90,118.70 L422.90,121.10 L423.50,121.10 L423.50,120.59 L424.10,120.59 L424.10,121.76 L424.70,121.76 L424.70,122.35 L425.30,122.35 L425.30,122.72 L425.90,122.72 L425.90,125.06 L426.50,125.06 L426.50,125.51 L427.10,125.51 L427.10,125.57 L427.70,125.57 L427.70,127.36 L428.30,127.36 L428.30,126.82 L428.90,126.82 L428.90,127.40 L429.50,127.40 L429.50,128.44 L430.10,128.44 L430.10,127.98 L430.70,127.98 L430.70,129.34 L431.30,129.34 L431.30,129.08 L431.90,129.08 L431.90,129.75 L432.50,129.75 L432.50,129.69 L433.10,129.69 L433.10,130.16 L433.70,130.16 L433.70,130.11 L434.30,130.11 L434.30,132.01 L434.90,132.01 L434.90,131.17 L435.50,131.17 L435.50,131.32 L436.10,131.32 L436.10,132.69 L436.70,132.69 L436.70,132.85 L437.30,132.85 L437.30,132.66 L437.90,132.66 L437.90,131.95 L438.50,131.95 L438.50,132.95 L439.10,132.95 L439.10,131.82 L439.70,131.82 L439.70,130.99 L440.30,130.99 L440.30,130.82 L440.90,130.82 L440.90,130.87 L441.50,130.87 L441.50,131.66 L442.10,131.66 L442.10,130.34 L442.70,130.34 L442.70,130.22 L443.30,130.22 L443.30,128.96 L443.90,128.96 L443.90,129.21 L444.50,129.21 L444.50,130.25 L445.10,130.25 L445.10,129.68 L445.70,129.68 L445.70,128.49 L446.30,128.49 L446.30,128.45 L446.90,128.45 L446.90,126.53 L447.50,126.53 L447.50,126.55 L448.10,126.55 L448.10,125.50 L448.70,125.50 L448.70,124.70 L449.30,124.70 L449.30,123.81 L449.90,123.81 L449.90,122.99 L450.50,122.99 L450.50,122.96 L451.10,122.96 L451.10,122.03 L451.70,122.03 L451.70,121.46 L452.30,121.46 L452.30,121.13 L452.90,121.13 L452.90,120.13 L453.50,120.13 L453.50,119.01 L454.10,119.01 L454.10,119.86 L454.70,119.86 L454.70,119.65 L455.30,119.65 L455.30,117.65 L455.90,117.65 L455.90,118.76 L456.50,118.76 L456.50,119.67 L457.10,119.67 L457.10,120.24 L457.70,120.24 L457.70,122.15 L458.30,122.15 L458.30,123.02 L458.90,123.02 L458.90,124.68 L459.50,124.68 L459.50,125.95 L460.10,125.95 L460.10,125.34 L460.70,125.34 L460.70,126.84 L461.30,126.84 L461.30,127.18 L461.90,127.18 L461.90,126.37 L462.50,126.37 L462.50,127.56 L463.10,127.56 L463.10,127.06 L463.70,127.06 L463.70,126.34 L464.30,126.34 L464.30,127.30 L464.90,127.30 L464.90,126.58 L465.50,126.58 L465.50,126.77 L466.10,126.77 L466.10,126.23 L466.70,126.23 L466.70,124.91 L467.30,124.91 L467.30,124.28 L467.90,124.28 L467.90,122.03 L468.50,122.03 L468.50,121.08 L469.10,121.08 L469.10,119.91 L469.70,119.91 L469.70,107.94 L470.30,107.94 L470.30,95.09 L470.90,95.09 L470.90,79.45 L471.50,79.45 L471.50,66.24 L472.10,66.24 L472.10,52.79 L472.70,52.79 L472.70,31.16 L473.30,31.16 L473.30,5.74 L473.90,5.74 L473.90,5.80 L474.50,5.80 L474.50,5.96 L475.10,5.96 L475.10,5.05 L475.70,5.05 L475.70,4.55 L476.30,4.55 L476.30,4.48 L476.90,4.48 L476.90,4.65 L477.50,4.65 L477.50,4.64 L478.10,4.64 L478.10,5.36 L478.70,5.36 L478.70,5.89 L479.30,5.89 L479.30,6.16 L479.90,6.16 L479.90,5.12 L480.50,5.12 L480.50,4.91 L481.10,4.91 L481.10,5.66 L481.70,5.66 L481.70,5.88 L482.30,5.88 L482.30,4.91 L482.90,4.91 L482.90,5.18 L483.50,5.18 L483.50,4.44 L484.10,4.44 L483.7,140.5 Z" fill="#4ab0e4"/>
<path d="M330.5,140.5 L330.50,117.07 L331.10,117.07 L331.10,117.70 L331.70,117.70 L331.70,116.67 L332.30,116.67 L332.30,116.46 L332.90,116.46 L332.90,117.39 L333.50,117.39 L333.50,116.89 L334.10,116.89 L334.10,116.33 L334.70,116.33 L334.70,117.17 L335.30,117.17 L335.30,115.57 L335.90,115.57 L335.90,115.69 L336.50,115.69 L336.50,116.77 L337.10,116.77 L337.10,116.68 L337.70,116.68 L337.70,116.79 L338.30,116.79 L338.30,115.43 L338.90,115.43 L338.90,115.72 L339.50,115.72 L339.50,115.75 L340.10,115.75 L340.10,115.27 L340.70,115.27 L340.70,115.06 L341.30,115.06 L341.30,115.79 L341.90,115.79 L341.90,115.91 L342.50,115.91 L342.50,114.95 L343.10,114.95 L343.10,114.02 L343.70,114.02 L343.70,114.39 L344.30,114.39 L344.30,113.78 L344.90,113.78 L344.90,113.69 L345.50,113.69 L345.50,114.14 L346.10,114.14 L346.10,113.11 L346.70,113.11 L346.70,113.11 L347.30,113.11 L347.30,112.69 L347.90,112.69 L347.90,111.95 L348.50,111.95 L348.50,113.02 L349.10,113.02 L349.10,112.08 L349.70,112.08 L349.70,110.35 L350.30,110.35 L350.30,111.20 L350.90,111.20 L350.90,110.38 L351.50,110.38 L351.50,109.46 L352.10,109.46 L352.10,109.82 L352.70,109.82 L352.70,108.10 L353.30,108.10 L353.30,107.92 L353.90,107.92 L353.90,107.01 L354.50,107.01 L354.50,107.36 L355.10,107.36 L355.10,106.16 L355.70,106.16 L355.70,106.02 L356.30,106.02 L356.30,104.76 L356.90,104.76 L356.90,103.86 L357.50,103.86 L357.50,101.82 L358.10,101.82 L358.10,99.84 L358.70,99.84 L358.70,98.16 L359.30,98.16 L359.30,97.70 L359.90,97.70 L359.90,95.43 L360.50,95.43 L360.50,94.64 L361.10,94.64 L361.10,92.70 L361.70,92.70 L361.70,91.08 L362.30,91.08 L362.30,88.54 L362.90,88.54 L362.90,85.38 L363.50,85.38 L363.50,83.00 L364.10,83.00 L364.10,78.98 L364.70,78.98 L364.70,76.49 L365.30,76.49 L365.30,73.15 L365.90,73.15 L365.90,71.06 L366.50,71.06 L366.50,68.03 L367.10,68.03 L367.10,67.74 L367.70,67.74 L367.70,60.56 L368.30,60.56 L368.30,58.20 L368.90,58.20 L368.90,55.08 L369.50,55.08 L369.50,54.04 L370.10,54.04 L370.10,56.37 L370.70,56.37 L370.70,55.21 L371.30,55.21 L371.30,53.46 L371.90,53.46 L371.90,52.68 L372.50,52.68 L372.50,56.30 L373.10,56.30 L373.10,53.10 L373.70,53.10 L373.70,52.62 L374.30,52.62 L374.30,53.95 L374.90,53.95 L374.90,56.39 L375.50,56.39 L375.50,56.76 L376.10,56.76 L376.10,56.96 L376.70,56.96 L376.70,53.95 L377.30,53.95 L377.30,54.88 L377.90,54.88 L377.90,55.91 L378.50,55.91 L378.50,57.47 L379.10,57.47 L379.10,58.01 L379.70,58.01 L379.70,59.08 L380.30,59.08 L380.30,60.82 L380.90,60.82 L380.90,63.63 L381.50,63.63 L381.50,64.49 L382.10,64.49 L382.10,66.10 L382.70,66.10 L382.70,67.19 L383.30,67.19 L383.30,69.06 L383.90,69.06 L383.90,69.86 L384.50,69.86 L384.50,71.43 L385.10,71.43 L385.10,73.60 L385.70,73.60 L385.70,76.14 L386.30,76.14 L386.30,76.92 L386.90,76.92 L386.90,80.04 L387.50,80.04 L387.50,80.54 L388.10,80.54 L388.10,81.97 L388.70,81.97 L388.70,81.36 L389.30,81.36 L389.30,85.59 L389.90,85.59 L389.90,89.71 L390.50,89.71 L390.50,92.37 L391.10,92.37 L391.10,94.79 L391.70,94.79 L391.70,97.71 L392.30,97.71 L392.30,100.55 L392.90,100.55 L392.90,102.42 L393.50,102.42 L393.50,105.37 L394.10,105.37 L394.10,108.58 L394.70,108.58 L394.70,109.26 L395.30,109.26 L395.30,113.07 L395.90,113.07 L395.90,114.63 L396.50,114.63 L396.50,116.50 L397.10,116.50 L397.10,117.53 L397.70,117.53 L397.70,117.39 L398.30,117.39 L398.30,118.13 L398.90,118.13 L398.90,119.04 L399.50,119.04 L399.50,119.53 L400.10,119.53 L400.10,119.92 L400.70,119.92 L400.70,120.09 L401.30,120.09 L401.30,120.80 L401.90,120.80 L401.90,121.98 L402.50,121.98 L402.50,122.94 L403.10,122.94 L403.10,122.59 L403.70,122.59 L403.70,122.35 L404.30,122.35 L404.30,123.43 L404.90,123.43 L404.90,122.40 L405.50,122.40 L405.50,123.14 L406.10,123.14 L406.10,122.36 L406.70,122.36 L406.70,125.15 L407.30,125.15 L407.30,124.67 L407.90,124.67 L407.90,124.54 L408.50,124.54 L408.50,124.42 L409.10,124.42 L409.10,126.08 L409.70,126.08 L409.70,123.87 L410.30,123.87 L410.30,126.09 L410.90,126.09 L410.90,126.96 L411.50,126.96 L411.50,127.58 L412.10,127.58 L412.10,127.71 L412.70,127.71 L412.70,127.77 L413.30,127.77 L413.30,128.05 L413.90,128.05 L413.90,127.60 L414.50,127.60 L414.50,128.64 L415.10,128.64 L415.10,127.64 L415.70,127.64 L415.70,128.84 L416.30,128.84 L416.30,129.34 L416.90,129.34 L416.90,128.84 L417.50,128.84 L417.50,129.25 L418.10,129.25 L418.10,129.30 L418.70,129.30 L418.70,129.56 L419.30,129.56 L419.30,129.57 L419.90,129.57 L419.90,130.81 L420.50,130.81 L420.50,129.00 L421.10,129.00 L421.10,130.32 L421.70,130.32 L421.70,131.19 L422.30,131.19 L422.30,130.79 L422.90,130.79 L422.90,131.20 L423.50,131.20 L423.50,130.53 L424.10,130.53 L424.10,130.86 L424.70,130.86 L424.70,131.34 L425.30,131.34 L425.30,131.37 L425.90,131.37 L425.90,131.73 L426.50,131.73 L426.50,133.15 L427.10,133.15 L427.10,131.80 L427.70,131.80 L427.70,131.91 L428.30,131.91 L428.30,132.37 L428.90,132.37 L428.90,132.22 L429.50,132.22 L429.50,132.48 L430.10,132.48 L430.10,133.60 L430.70,133.60 L430.70,133.97 L431.30,133.97 L431.30,134.24 L431.90,134.24 L431.90,134.72 L432.50,134.72 L432.50,133.48 L433.10,133.48 L433.10,134.51 L433.70,134.51 L433.70,135.18 L434.30,135.18 L434.30,135.24 L434.90,135.24 L434.90,134.93 L435.50,134.93 L435.50,134.88 L436.10,134.88 L436.10,135.56 L436.70,135.56 L436.70,135.09 L437.30,135.09 L437.30,134.41 L437.90,134.41 L437.90,134.18 L438.50,134.18 L438.50,135.28 L439.10,135.28 L439.10,134.65 L439.70,134.65 L439.70,133.40 L440.30,133.40 L440.30,133.29 L440.90,133.29 L440.90,133.42 L441.50,133.42 L441.50,132.56 L442.10,132.56 L442.10,131.87 L442.70,131.87 L442.70,129.81 L443.30,129.81 L443.30,130.92 L443.90,130.92 L443.90,131.85 L444.50,131.85 L444.50,130.87 L445.10,130.87 L445.10,128.82 L445.70,128.82 L445.70,129.50 L446.30,129.50 L446.30,129.08 L446.90,129.08 L446.90,128.79 L447.50,128.79 L447.50,126.82 L448.10,126.82 L448.10,126.83 L448.70,126.83 L448.70,126.70 L449.30,126.70 L449.30,125.27 L449.90,125.27 L449.90,124.26 L450.50,124.26 L450.50,124.07 L451.10,124.07 L451.10,120.94 L451.70,120.94 L451.70,122.01 L452.30,122.01 L452.30,121.32 L452.90,121.32 L452.90,120.92 L453.50,120.92 L453.50,120.79 L454.10,120.79 L454.10,120.67 L454.70,120.67 L454.70,119.77 L455.30,119.77 L455.30,119.65 L455.90,119.65 L455.90,120.58 L456.50,120.58 L456.50,121.13 L457.10,121.13 L457.10,121.74 L457.70,121.74 L457.70,123.43 L458.30,123.43 L458.30,123.83 L458.90,123.83 L458.90,126.31 L459.50,126.31 L459.50,127.40 L460.10,127.40 L460.10,127.47 L460.70,127.47 L460.70,126.43 L461.30,126.43 L461.30,127.95 L461.90,127.95 L461.90,127.73 L462.50,127.73 L462.50,126.99 L463.10,126.99 L463.10,127.87 L463.70,127.87 L463.70,127.97 L464.30,127.97 L464.30,128.24 L464.90,128.24 L464.90,128.19 L465.50,128.19 L465.50,128.01 L466.10,128.01 L466.10,126.87 L466.70,126.87 L466.70,126.79 L467.30,126.79 L467.30,124.90 L467.90,124.90 L467.90,124.43 L468.50,124.43 L468.50,121.97 L469.10,121.97 L469.10,121.94 L469.70,121.94 L469.70,111.71 L470.30,111.71 L470.30,99.46 L470.90,99.46 L470.90,90.00 L471.50,90.00 L471.50,79.37 L472.10,79.37 L472.10,67.15 L472.70,67.15 L472.70,55.63 L473.30,55.63 L473.30,37.42 L473.90,37.42 L473.90,9.76 L474.50,9.76 L474.50,4.85 L475.10,4.85 L475.10,4.61 L475.70,4.61 L475.70,4.52 L476.30,4.52 L476.30,4.72 L476.90,4.72 L476.90,3.13 L477.50,3.13 L477.50,5.70 L478.10,5.70 L478.10,5.62 L478.70,5.62 L478.70,4.66 L479.30,4.66 L479.30,5.55 L479.90,5.55 L479.90,4.65 L480.50,4.65 L480.50,5.34 L481.10,5.34 L481.10,5.68 L481.70,5.68 L481.70,4.54 L482.30,4.54 L482.30,5.32 L482.90,5.32 L482.90,5.51 L483.50,5.51 L483.50,4.96 L484.10,4.96 L483.7,140.5 Z" fill="#0c69b2"/>
<rect x="330.5" y="5.3" width="153.2" height="135.2" fill="none" stroke="#333" stroke-width="1.1"/>
<rect x="334.1" y="7.8" width="24.8" height="12.4" fill="#a8d8f2"/><rect x="334.1" y="20.9" width="24.8" height="12.4" fill="#4ab0e4"/><rect x="334.1" y="34.9" width="24.8" height="11.6" fill="#0c69b2"/>
<text x="364.5" y="17.9" font-size="10.5" fill="#222">T2</text><text x="364.5" y="31.1" font-size="10.5" fill="#222">T3</text><text x="364.5" y="44.3" font-size="10.5" fill="#222">T4</text>
<line x1="330.60" y1="140.5" x2="330.60" y2="146.2" stroke="#333" stroke-width="1.1"/><text x="322.90" y="158.6" font-size="10.5" fill="#222">10<tspan font-size="6.5" dy="-4.6">-7</tspan></text><line x1="351.52" y1="140.5" x2="351.52" y2="146.2" stroke="#333" stroke-width="1.1"/><text x="343.82" y="158.6" font-size="10.5" fill="#222">10<tspan font-size="6.5" dy="-4.6">-6</tspan></text><line x1="372.44" y1="140.5" x2="372.44" y2="146.2" stroke="#333" stroke-width="1.1"/><text x="364.74" y="158.6" font-size="10.5" fill="#222">10<tspan font-size="6.5" dy="-4.6">-5</tspan></text><line x1="393.36" y1="140.5" x2="393.36" y2="146.2" stroke="#333" stroke-width="1.1"/><text x="385.66" y="158.6" font-size="10.5" fill="#222">10<tspan font-size="6.5" dy="-4.6">-4</tspan></text><line x1="414.28" y1="140.5" x2="414.28" y2="146.2" stroke="#333" stroke-width="1.1"/><text x="406.58" y="158.6" font-size="10.5" fill="#222">10<tspan font-size="6.5" dy="-4.6">-3</tspan></text><line x1="435.20" y1="140.5" x2="435.20" y2="146.2" stroke="#333" stroke-width="1.1"/><text x="427.50" y="158.6" font-size="10.5" fill="#222">10<tspan font-size="6.5" dy="-4.6">-2</tspan></text><line x1="456.12" y1="140.5" x2="456.12" y2="146.2" stroke="#333" stroke-width="1.1"/><text x="448.42" y="158.6" font-size="10.5" fill="#222">10<tspan font-size="6.5" dy="-4.6">-1</tspan></text><line x1="477.04" y1="140.5" x2="477.04" y2="146.2" stroke="#333" stroke-width="1.1"/><text x="469.34" y="158.6" font-size="10.5" fill="#222">10<tspan font-size="6.5" dy="-4.6">0</tspan></text>
<text x="365" y="171.9" font-size="11" font-weight="bold" fill="#111">Conductance (G<tspan font-size="7" dy="2.2">0</tspan><tspan dy="-2.2">)</tspan></text>
<text transform="translate(323,106.5) rotate(-90)" font-size="10.3" font-weight="bold" fill="#111">Counts (a.u.)</text>
<text x="304.6" y="177.9" font-size="13.5" font-weight="bold" fill="#111">(d)</text>
<path d="M332.6,314.3 L332.60,297.76 L333.20,297.76 L333.20,298.82 L333.80,298.82 L333.80,297.91 L334.40,297.91 L334.40,299.23 L335.00,299.23 L335.00,298.59 L335.60,298.59 L335.60,297.50 L336.20,297.50 L336.20,297.05 L336.80,297.05 L336.80,298.04 L337.40,298.04 L337.40,297.64 L338.00,297.64 L338.00,299.19 L338.60,299.19 L338.60,298.22 L339.20,298.22 L339.20,296.61 L339.80,296.61 L339.80,298.44 L340.40,298.44 L340.40,299.44 L341.00,299.44 L341.00,299.70 L341.60,299.70 L341.60,298.90 L342.20,298.90 L342.20,298.77 L342.80,298.77 L342.80,297.80 L343.40,297.80 L343.40,298.25 L344.00,298.25 L344.00,298.22 L344.60,298.22 L344.60,299.74 L345.20,299.74 L345.20,299.47 L345.80,299.47 L345.80,299.42 L346.40,299.42 L346.40,298.88 L347.00,298.88 L347.00,298.29 L347.60,298.29 L347.60,299.82 L348.20,299.82 L348.20,298.69 L348.80,298.69 L348.80,298.65 L349.40,298.65 L349.40,298.15 L350.00,298.15 L350.00,298.79 L350.60,298.79 L350.60,298.01 L351.20,298.01 L351.20,297.83 L351.80,297.83 L351.80,296.82 L352.40,296.82 L352.40,297.26 L353.00,297.26 L353.00,296.14 L353.60,296.14 L353.60,296.21 L354.20,296.21 L354.20,295.91 L354.80,295.91 L354.80,295.39 L355.40,295.39 L355.40,296.35 L356.00,296.35 L356.00,295.09 L356.60,295.09 L356.60,295.46 L357.20,295.46 L357.20,295.79 L357.80,295.79 L357.80,295.56 L358.40,295.56 L358.40,294.39 L359.00,294.39 L359.00,293.87 L359.60,293.87 L359.60,293.04 L360.20,293.04 L360.20,290.89 L360.80,290.89 L360.80,293.85 L361.40,293.85 L361.40,293.28 L362.00,293.28 L362.00,292.49 L362.60,292.49 L362.60,291.34 L363.20,291.34 L363.20,293.53 L363.80,293.53 L363.80,293.05 L364.40,293.05 L364.40,291.81 L365.00,291.81 L365.00,292.27 L365.60,292.27 L365.60,291.02 L366.20,291.02 L366.20,292.65 L366.80,292.65 L366.80,292.60 L367.40,292.60 L367.40,291.45 L368.00,291.45 L368.00,292.23 L368.60,292.23 L368.60,291.39 L369.20,291.39 L369.20,290.25 L369.80,290.25 L369.80,290.71 L370.40,290.71 L370.40,291.18 L371.00,291.18 L371.00,290.90 L371.60,290.90 L371.60,290.36 L372.20,290.36 L372.20,291.31 L372.80,291.31 L372.80,289.32 L373.40,289.32 L373.40,290.01 L374.00,290.01 L374.00,290.78 L374.60,290.78 L374.60,289.00 L375.20,289.00 L375.20,289.19 L375.80,289.19 L375.80,288.70 L376.40,288.70 L376.40,288.35 L377.00,288.35 L377.00,289.25 L377.60,289.25 L377.60,287.52 L378.20,287.52 L378.20,289.08 L378.80,289.08 L378.80,287.61 L379.40,287.61 L379.40,286.76 L380.00,286.76 L380.00,286.74 L380.60,286.74 L380.60,286.65 L381.20,286.65 L381.20,285.66 L381.80,285.66 L381.80,286.24 L382.40,286.24 L382.40,285.95 L383.00,285.95 L383.00,286.24 L383.60,286.24 L383.60,284.77 L384.20,284.77 L384.20,284.99 L384.80,284.99 L384.80,285.31 L385.40,285.31 L385.40,284.03 L386.00,284.03 L386.00,281.25 L386.60,281.25 L386.60,283.27 L387.20,283.27 L387.20,281.13 L387.80,281.13 L387.80,279.82 L388.40,279.82 L388.40,280.84 L389.00,280.84 L389.00,279.35 L389.60,279.35 L389.60,277.72 L390.20,277.72 L390.20,277.96 L390.80,277.96 L390.80,277.16 L391.40,277.16 L391.40,275.13 L392.00,275.13 L392.00,275.41 L392.60,275.41 L392.60,275.96 L393.20,275.96 L393.20,274.45 L393.80,274.45 L393.80,273.58 L394.40,273.58 L394.40,273.40 L395.00,273.40 L395.00,271.49 L395.60,271.49 L395.60,271.78 L396.20,271.78 L396.20,272.06 L396.80,272.06 L396.80,270.88 L397.40,270.88 L397.40,270.37 L398.00,270.37 L398.00,269.84 L398.60,269.84 L398.60,268.24 L399.20,268.24 L399.20,267.95 L399.80,267.95 L399.80,268.61 L400.40,268.61 L400.40,267.97 L401.00,267.97 L401.00,266.86 L401.60,266.86 L401.60,266.19 L402.20,266.19 L402.20,265.74 L402.80,265.74 L402.80,267.33 L403.40,267.33 L403.40,263.87 L404.00,263.87 L404.00,265.53 L404.60,265.53 L404.60,263.62 L405.20,263.62 L405.20,263.28 L405.80,263.28 L405.80,262.78 L406.40,262.78 L406.40,260.14 L407.00,260.14 L407.00,258.82 L407.60,258.82 L407.60,257.82 L408.20,257.82 L408.20,257.58 L408.80,257.58 L408.80,258.76 L409.40,258.76 L409.40,257.37 L410.00,257.37 L410.00,256.75 L410.60,256.75 L410.60,256.60 L411.20,256.60 L411.20,255.31 L411.80,255.31 L411.80,254.12 L412.40,254.12 L412.40,255.24 L413.00,255.24 L413.00,248.61 L413.60,248.61 L413.60,246.33 L414.20,246.33 L414.20,247.56 L414.80,247.56 L414.80,245.92 L415.40,245.92 L415.40,246.11 L416.00,246.11 L416.00,246.90 L416.60,246.90 L416.60,246.71 L417.20,246.71 L417.20,250.50 L417.80,250.50 L417.80,252.85 L418.40,252.85 L418.40,255.39 L419.00,255.39 L419.00,257.40 L419.60,257.40 L419.60,261.16 L420.20,261.16 L420.20,261.96 L420.80,261.96 L420.80,262.68 L421.40,262.68 L421.40,265.34 L422.00,265.34 L422.00,261.77 L422.60,261.77 L422.60,263.58 L423.20,263.58 L423.20,262.39 L423.80,262.39 L423.80,261.38 L424.40,261.38 L424.40,260.88 L425.00,260.88 L425.00,260.95 L425.60,260.95 L425.60,258.98 L426.20,258.98 L426.20,262.74 L426.80,262.74 L426.80,263.77 L427.40,263.77 L427.40,267.07 L428.00,267.07 L428.00,270.14 L428.60,270.14 L428.60,271.65 L429.20,271.65 L429.20,275.32 L429.80,275.32 L429.80,277.87 L430.40,277.87 L430.40,277.38 L431.00,277.38 L431.00,279.44 L431.60,279.44 L431.60,282.61 L432.20,282.61 L432.20,283.52 L432.80,283.52 L432.80,285.92 L433.40,285.92 L433.40,287.92 L434.00,287.92 L434.00,289.01 L434.60,289.01 L434.60,288.46 L435.20,288.46 L435.20,290.93 L435.80,290.93 L435.80,291.91 L436.40,291.91 L436.40,291.74 L437.00,291.74 L437.00,293.56 L437.60,293.56 L437.60,291.98 L438.20,291.98 L438.20,293.76 L438.80,293.76 L438.80,294.52 L439.40,294.52 L439.40,293.67 L440.00,293.67 L440.00,294.95 L440.60,294.95 L440.60,294.68 L441.20,294.68 L441.20,295.89 L441.80,295.89 L441.80,296.40 L442.40,296.40 L442.40,294.41 L443.00,294.41 L443.00,294.64 L443.60,294.64 L443.60,295.78 L444.20,295.78 L444.20,293.08 L444.80,293.08 L444.80,293.28 L445.40,293.28 L445.40,291.63 L446.00,291.63 L446.00,294.09 L446.60,294.09 L446.60,293.81 L447.20,293.81 L447.20,292.95 L447.80,292.95 L447.80,293.57 L448.40,293.57 L448.40,293.55 L449.00,293.55 L449.00,293.08 L449.60,293.08 L449.60,293.98 L450.20,293.98 L450.20,294.36 L450.80,294.36 L450.80,293.60 L451.40,293.60 L451.40,296.32 L452.00,296.32 L452.00,297.27 L452.60,297.27 L452.60,298.46 L453.20,298.46 L453.20,296.30 L453.80,296.30 L453.80,297.38 L454.40,297.38 L454.40,297.50 L455.00,297.50 L455.00,295.01 L455.60,295.01 L455.60,295.50 L456.20,295.50 L456.20,293.04 L456.80,293.04 L456.80,293.94 L457.40,293.94 L457.40,292.34 L458.00,292.34 L458.00,291.92 L458.60,291.92 L458.60,292.35 L459.20,292.35 L459.20,292.99 L459.80,292.99 L459.80,292.40 L460.40,292.40 L460.40,294.11 L461.00,294.11 L461.00,293.31 L461.60,293.31 L461.60,294.67 L462.20,294.67 L462.20,295.29 L462.80,295.29 L462.80,294.87 L463.40,294.87 L463.40,293.69 L464.00,293.69 L464.00,291.81 L464.60,291.81 L464.60,291.57 L465.20,291.57 L465.20,290.09 L465.80,290.09 L465.80,289.49 L466.40,289.49 L466.40,288.71 L467.00,288.71 L467.00,285.82 L467.60,285.82 L467.60,287.10 L468.20,287.10 L468.20,285.44 L468.80,285.44 L468.80,279.95 L469.40,279.95 L469.40,277.61 L470.00,277.61 L470.00,260.00 L470.60,260.00 L470.60,217.35 L471.20,217.35 L471.20,180.80 L471.80,180.80 L471.80,180.16 L472.40,180.16 L472.40,180.80 L473.00,180.80 L473.00,180.53 L473.60,180.53 L473.60,179.72 L474.20,179.72 L474.20,180.40 L474.80,180.40 L474.80,180.69 L475.40,180.69 L475.40,179.59 L476.00,179.59 L476.00,179.76 L476.60,179.76 L476.60,180.12 L477.20,180.12 L477.20,179.46 L477.80,179.46 L477.80,179.73 L478.40,179.73 L478.40,181.26 L479.00,181.26 L479.00,179.65 L479.60,179.65 L479.60,179.65 L480.20,179.65 L480.20,181.07 L480.80,181.07 L480.80,180.94 L481.40,180.94 L481.40,179.59 L482.00,179.59 L482.00,180.27 L482.60,180.27 L482.60,180.67 L483.20,180.67 L483.20,180.54 L483.80,180.54 L483.80,179.42 L484.40,179.42 L484.40,180.10 L485.00,180.10 L484.4,314.3 Z" fill="#f5b8b0"/>
<path d="M332.6,314.3 L332.60,299.51 L333.20,299.51 L333.20,297.47 L333.80,297.47 L333.80,297.84 L334.40,297.84 L334.40,298.89 L335.00,298.89 L335.00,299.43 L335.60,299.43 L335.60,299.60 L336.20,299.60 L336.20,298.84 L336.80,298.84 L336.80,299.04 L337.40,299.04 L337.40,297.17 L338.00,297.17 L338.00,298.87 L338.60,298.87 L338.60,298.01 L339.20,298.01 L339.20,298.89 L339.80,298.89 L339.80,299.33 L340.40,299.33 L340.40,298.89 L341.00,298.89 L341.00,299.01 L341.60,299.01 L341.60,299.79 L342.20,299.79 L342.20,299.42 L342.80,299.42 L342.80,299.15 L343.40,299.15 L343.40,299.55 L344.00,299.55 L344.00,296.99 L344.60,296.99 L344.60,297.85 L345.20,297.85 L345.20,298.91 L345.80,298.91 L345.80,298.71 L346.40,298.71 L346.40,299.85 L347.00,299.85 L347.00,298.67 L347.60,298.67 L347.60,298.52 L348.20,298.52 L348.20,299.08 L348.80,299.08 L348.80,299.28 L349.40,299.28 L349.40,297.70 L350.00,297.70 L350.00,298.00 L350.60,298.00 L350.60,297.80 L351.20,297.80 L351.20,298.72 L351.80,298.72 L351.80,295.24 L352.40,295.24 L352.40,296.41 L353.00,296.41 L353.00,296.51 L353.60,296.51 L353.60,296.23 L354.20,296.23 L354.20,295.23 L354.80,295.23 L354.80,296.61 L355.40,296.61 L355.40,295.00 L356.00,295.00 L356.00,294.38 L356.60,294.38 L356.60,295.79 L357.20,295.79 L357.20,294.69 L357.80,294.69 L357.80,294.48 L358.40,294.48 L358.40,294.37 L359.00,294.37 L359.00,294.43 L359.60,294.43 L359.60,294.10 L360.20,294.10 L360.20,293.08 L360.80,293.08 L360.80,293.96 L361.40,293.96 L361.40,292.98 L362.00,292.98 L362.00,293.25 L362.60,293.25 L362.60,292.08 L363.20,292.08 L363.20,292.51 L363.80,292.51 L363.80,291.50 L364.40,291.50 L364.40,291.56 L365.00,291.56 L365.00,291.67 L365.60,291.67 L365.60,291.36 L366.20,291.36 L366.20,291.02 L366.80,291.02 L366.80,291.12 L367.40,291.12 L367.40,292.13 L368.00,292.13 L368.00,291.37 L368.60,291.37 L368.60,291.64 L369.20,291.64 L369.20,291.14 L369.80,291.14 L369.80,291.57 L370.40,291.57 L370.40,290.79 L371.00,290.79 L371.00,290.13 L371.60,290.13 L371.60,289.61 L372.20,289.61 L372.20,289.67 L372.80,289.67 L372.80,289.50 L373.40,289.50 L373.40,289.28 L374.00,289.28 L374.00,288.94 L374.60,288.94 L374.60,288.73 L375.20,288.73 L375.20,290.65 L375.80,290.65 L375.80,288.73 L376.40,288.73 L376.40,288.26 L377.00,288.26 L377.00,289.58 L377.60,289.58 L377.60,287.44 L378.20,287.44 L378.20,288.56 L378.80,288.56 L378.80,288.65 L379.40,288.65 L379.40,287.84 L380.00,287.84 L380.00,288.22 L380.60,288.22 L380.60,286.51 L381.20,286.51 L381.20,286.18 L381.80,286.18 L381.80,286.68 L382.40,286.68 L382.40,287.10 L383.00,287.10 L383.00,285.45 L383.60,285.45 L383.60,286.48 L384.20,286.48 L384.20,284.72 L384.80,284.72 L384.80,283.61 L385.40,283.61 L385.40,282.60 L386.00,282.60 L386.00,282.32 L386.60,282.32 L386.60,283.25 L387.20,283.25 L387.20,281.65 L387.80,281.65 L387.80,281.06 L388.40,281.06 L388.40,278.65 L389.00,278.65 L389.00,279.87 L389.60,279.87 L389.60,279.34 L390.20,279.34 L390.20,277.38 L390.80,277.38 L390.80,278.36 L391.40,278.36 L391.40,276.49 L392.00,276.49 L392.00,276.50 L392.60,276.50 L392.60,276.29 L393.20,276.29 L393.20,275.04 L393.80,275.04 L393.80,274.49 L394.40,274.49 L394.40,272.72 L395.00,272.72 L395.00,269.79 L395.60,269.79 L395.60,270.66 L396.20,270.66 L396.20,270.33 L396.80,270.33 L396.80,270.23 L397.40,270.23 L397.40,269.95 L398.00,269.95 L398.00,269.08 L398.60,269.08 L398.60,268.37 L399.20,268.37 L399.20,269.03 L399.80,269.03 L399.80,265.53 L400.40,265.53 L400.40,267.62 L401.00,267.62 L401.00,266.46 L401.60,266.46 L401.60,266.56 L402.20,266.56 L402.20,265.67 L402.80,265.67 L402.80,266.01 L403.40,266.01 L403.40,266.71 L404.00,266.71 L404.00,264.14 L404.60,264.14 L404.60,263.72 L405.20,263.72 L405.20,263.07 L405.80,263.07 L405.80,260.56 L406.40,260.56 L406.40,261.36 L407.00,261.36 L407.00,259.28 L407.60,259.28 L407.60,257.07 L408.20,257.07 L408.20,257.97 L408.80,257.97 L408.80,257.17 L409.40,257.17 L409.40,257.81 L410.00,257.81 L410.00,256.18 L410.60,256.18 L410.60,257.04 L411.20,257.04 L411.20,255.43 L411.80,255.43 L411.80,256.09 L412.40,256.09 L412.40,254.06 L413.00,254.06 L413.00,248.95 L413.60,248.95 L413.60,248.26 L414.20,248.26 L414.20,247.83 L414.80,247.83 L414.80,247.81 L415.40,247.81 L415.40,246.40 L416.00,246.40 L416.00,247.40 L416.60,247.40 L416.60,247.22 L417.20,247.22 L417.20,249.98 L417.80,249.98 L417.80,253.86 L418.40,253.86 L418.40,256.65 L419.00,256.65 L419.00,257.40 L419.60,257.40 L419.60,259.58 L420.20,259.58 L420.20,261.54 L420.80,261.54 L420.80,263.75 L421.40,263.75 L421.40,264.98 L422.00,264.98 L422.00,267.90 L422.60,267.90 L422.60,268.24 L423.20,268.24 L423.20,271.01 L423.80,271.01 L423.80,271.05 L424.40,271.05 L424.40,274.07 L425.00,274.07 L425.00,275.62 L425.60,275.62 L425.60,274.35 L426.20,274.35 L426.20,277.12 L426.80,277.12 L426.80,277.52 L427.40,277.52 L427.40,279.15 L428.00,279.15 L428.00,280.84 L428.60,280.84 L428.60,282.31 L429.20,282.31 L429.20,282.25 L429.80,282.25 L429.80,282.78 L430.40,282.78 L430.40,283.63 L431.00,283.63 L431.00,285.49 L431.60,285.49 L431.60,286.49 L432.20,286.49 L432.20,286.87 L432.80,286.87 L432.80,287.25 L433.40,287.25 L433.40,287.69 L434.00,287.69 L434.00,289.60 L434.60,289.60 L434.60,291.18 L435.20,291.18 L435.20,291.12 L435.80,291.12 L435.80,292.33 L436.40,292.33 L436.40,291.98 L437.00,291.98 L437.00,294.25 L437.60,294.25 L437.60,292.20 L438.20,292.20 L438.20,295.09 L438.80,295.09 L438.80,294.33 L439.40,294.33 L439.40,295.93 L440.00,295.93 L440.00,295.30 L440.60,295.30 L440.60,295.26 L441.20,295.26 L441.20,296.35 L441.80,296.35 L441.80,296.76 L442.40,296.76 L442.40,294.94 L443.00,294.94 L443.00,296.85 L443.60,296.85 L443.60,296.28 L444.20,296.28 L444.20,296.07 L444.80,296.07 L444.80,294.10 L445.40,294.10 L445.40,294.52 L446.00,294.52 L446.00,292.63 L446.60,292.63 L446.60,294.08 L447.20,294.08 L447.20,292.82 L447.80,292.82 L447.80,294.67 L448.40,294.67 L448.40,294.55 L449.00,294.55 L449.00,293.89 L449.60,293.89 L449.60,295.76 L450.20,295.76 L450.20,297.09 L450.80,297.09 L450.80,296.70 L451.40,296.70 L451.40,297.64 L452.00,297.64 L452.00,297.60 L452.60,297.60 L452.60,298.22 L453.20,298.22 L453.20,299.16 L453.80,299.16 L453.80,298.94 L454.40,298.94 L454.40,296.98 L455.00,296.98 L455.00,296.21 L455.60,296.21 L455.60,296.34 L456.20,296.34 L456.20,295.43 L456.80,295.43 L456.80,293.18 L457.40,293.18 L457.40,293.05 L458.00,293.05 L458.00,291.78 L458.60,291.78 L458.60,291.96 L459.20,291.96 L459.20,294.22 L459.80,294.22 L459.80,292.04 L460.40,292.04 L460.40,293.47 L461.00,293.47 L461.00,293.71 L461.60,293.71 L461.60,295.61 L462.20,295.61 L462.20,295.67 L462.80,295.67 L462.80,295.00 L463.40,295.00 L463.40,294.25 L464.00,294.25 L464.00,292.74 L464.60,292.74 L464.60,291.76 L465.20,291.76 L465.20,291.42 L465.80,291.42 L465.80,291.27 L466.40,291.27 L466.40,289.70 L467.00,289.70 L467.00,290.17 L467.60,290.17 L467.60,289.06 L468.20,289.06 L468.20,284.23 L468.80,284.23 L468.80,280.66 L469.40,280.66 L469.40,273.67 L470.00,273.67 L470.00,269.58 L470.60,269.58 L470.60,263.63 L471.20,263.63 L471.20,252.26 L471.80,252.26 L471.80,229.94 L472.40,229.94 L472.40,193.09 L473.00,193.09 L473.00,181.29 L473.60,181.29 L473.60,179.99 L474.20,179.99 L474.20,179.67 L474.80,179.67 L474.80,181.09 L475.40,181.09 L475.40,178.37 L476.00,178.37 L476.00,181.53 L476.60,181.53 L476.60,180.31 L477.20,180.31 L477.20,181.07 L477.80,181.07 L477.80,180.48 L478.40,180.48 L478.40,181.12 L479.00,181.12 L479.00,179.52 L479.60,179.52 L479.60,181.20 L480.20,181.20 L480.20,180.55 L480.80,180.55 L480.80,179.59 L481.40,179.59 L481.40,180.46 L482.00,180.46 L482.00,180.91 L482.60,180.91 L482.60,181.16 L483.20,181.16 L483.20,180.90 L483.80,180.90 L483.80,181.57 L484.40,181.57 L484.40,180.71 L485.00,180.71 L484.4,314.3 Z" fill="#f06b68"/>
<path d="M332.6,314.3 L332.60,300.63 L333.20,300.63 L333.20,299.35 L333.80,299.35 L333.80,299.71 L334.40,299.71 L334.40,299.16 L335.00,299.16 L335.00,299.94 L335.60,299.94 L335.60,299.86 L336.20,299.86 L336.20,300.70 L336.80,300.70 L336.80,300.36 L337.40,300.36 L337.40,298.38 L338.00,298.38 L338.00,300.70 L338.60,300.70 L338.60,300.86 L339.20,300.86 L339.20,300.38 L339.80,300.38 L339.80,300.49 L340.40,300.49 L340.40,301.22 L341.00,301.22 L341.00,300.04 L341.60,300.04 L341.60,301.52 L342.20,301.52 L342.20,301.02 L342.80,301.02 L342.80,300.52 L343.40,300.52 L343.40,300.92 L344.00,300.92 L344.00,300.52 L344.60,300.52 L344.60,300.48 L345.20,300.48 L345.20,301.74 L345.80,301.74 L345.80,301.30 L346.40,301.30 L346.40,301.30 L347.00,301.30 L347.00,302.46 L347.60,302.46 L347.60,299.68 L348.20,299.68 L348.20,302.44 L348.80,302.44 L348.80,301.36 L349.40,301.36 L349.40,302.80 L350.00,302.80 L350.00,302.81 L350.60,302.81 L350.60,301.91 L351.20,301.91 L351.20,300.68 L351.80,300.68 L351.80,302.10 L352.40,302.10 L352.40,302.30 L353.00,302.30 L353.00,301.67 L353.60,301.67 L353.60,302.08 L354.20,302.08 L354.20,302.53 L354.80,302.53 L354.80,299.73 L355.40,299.73 L355.40,300.72 L356.00,300.72 L356.00,302.32 L356.60,302.32 L356.60,300.41 L357.20,300.41 L357.20,300.51 L357.80,300.51 L357.80,301.87 L358.40,301.87 L358.40,300.96 L359.00,300.96 L359.00,300.96 L359.60,300.96 L359.60,301.90 L360.20,301.90 L360.20,301.82 L360.80,301.82 L360.80,300.61 L361.40,300.61 L361.40,301.37 L362.00,301.37 L362.00,299.92 L362.60,299.92 L362.60,300.14 L363.20,300.14 L363.20,300.31 L363.80,300.31 L363.80,299.37 L364.40,299.37 L364.40,299.52 L365.00,299.52 L365.00,300.47 L365.60,300.47 L365.60,299.34 L366.20,299.34 L366.20,299.52 L366.80,299.52 L366.80,299.41 L367.40,299.41 L367.40,299.01 L368.00,299.01 L368.00,297.88 L368.60,297.88 L368.60,299.45 L369.20,299.45 L369.20,299.48 L369.80,299.48 L369.80,298.92 L370.40,298.92 L370.40,298.25 L371.00,298.25 L371.00,297.29 L371.60,297.29 L371.60,298.02 L372.20,298.02 L372.20,298.00 L372.80,298.00 L372.80,297.81 L373.40,297.81 L373.40,296.55 L374.00,296.55 L374.00,298.25 L374.60,298.25 L374.60,297.91 L375.20,297.91 L375.20,297.32 L375.80,297.32 L375.80,296.37 L376.40,296.37 L376.40,296.01 L377.00,296.01 L377.00,295.77 L377.60,295.77 L377.60,295.62 L378.20,295.62 L378.20,295.42 L378.80,295.42 L378.80,294.60 L379.40,294.60 L379.40,293.91 L380.00,293.91 L380.00,293.97 L380.60,293.97 L380.60,293.16 L381.20,293.16 L381.20,293.01 L381.80,293.01 L381.80,293.39 L382.40,293.39 L382.40,292.66 L383.00,292.66 L383.00,292.31 L383.60,292.31 L383.60,291.06 L384.20,291.06 L384.20,291.73 L384.80,291.73 L384.80,291.12 L385.40,291.12 L385.40,290.67 L386.00,290.67 L386.00,291.02 L386.60,291.02 L386.60,288.45 L387.20,288.45 L387.20,290.94 L387.80,290.94 L387.80,291.32 L388.40,291.32 L388.40,287.78 L389.00,287.78 L389.00,287.95 L389.60,287.95 L389.60,287.60 L390.20,287.60 L390.20,286.75 L390.80,286.75 L390.80,286.23 L391.40,286.23 L391.40,284.65 L392.00,284.65 L392.00,280.68 L392.60,280.68 L392.60,281.65 L393.20,281.65 L393.20,280.82 L393.80,280.82 L393.80,280.22 L394.40,280.22 L394.40,278.93 L395.00,278.93 L395.00,278.33 L395.60,278.33 L395.60,278.64 L396.20,278.64 L396.20,278.25 L396.80,278.25 L396.80,278.16 L397.40,278.16 L397.40,276.54 L398.00,276.54 L398.00,276.21 L398.60,276.21 L398.60,276.11 L399.20,276.11 L399.20,274.96 L399.80,274.96 L399.80,273.24 L400.40,273.24 L400.40,273.25 L401.00,273.25 L401.00,272.87 L401.60,272.87 L401.60,271.37 L402.20,271.37 L402.20,271.57 L402.80,271.57 L402.80,269.74 L403.40,269.74 L403.40,269.89 L404.00,269.89 L404.00,268.88 L404.60,268.88 L404.60,267.68 L405.20,267.68 L405.20,267.80 L405.80,267.80 L405.80,266.27 L406.40,266.27 L406.40,264.00 L407.00,264.00 L407.00,263.76 L407.60,263.76 L407.60,260.97 L408.20,260.97 L408.20,262.64 L408.80,262.64 L408.80,260.86 L409.40,260.86 L409.40,258.70 L410.00,258.70 L410.00,257.20 L410.60,257.20 L410.60,257.41 L411.20,257.41 L411.20,254.63 L411.80,254.63 L411.80,255.39 L412.40,255.39 L412.40,255.41 L413.00,255.41 L413.00,256.05 L413.60,256.05 L413.60,255.42 L414.20,255.42 L414.20,254.86 L414.80,254.86 L414.80,254.54 L415.40,254.54 L415.40,255.20 L416.00,255.20 L416.00,256.17 L416.60,256.17 L416.60,255.15 L417.20,255.15 L417.20,256.45 L417.80,256.45 L417.80,255.95 L418.40,255.95 L418.40,258.77 L419.00,258.77 L419.00,259.29 L419.60,259.29 L419.60,261.71 L420.20,261.71 L420.20,261.47 L420.80,261.47 L420.80,266.28 L421.40,266.28 L421.40,267.74 L422.00,267.74 L422.00,268.60 L422.60,268.60 L422.60,271.83 L423.20,271.83 L423.20,273.23 L423.80,273.23 L423.80,274.13 L424.40,274.13 L424.40,273.88 L425.00,273.88 L425.00,275.32 L425.60,275.32 L425.60,276.28 L426.20,276.28 L426.20,277.67 L426.80,277.67 L426.80,278.56 L427.40,278.56 L427.40,281.45 L428.00,281.45 L428.00,282.24 L428.60,282.24 L428.60,283.60 L429.20,283.60 L429.20,284.98 L429.80,284.98 L429.80,285.45 L430.40,285.45 L430.40,287.10 L431.00,287.10 L431.00,287.21 L431.60,287.21 L431.60,288.46 L432.20,288.46 L432.20,289.76 L432.80,289.76 L432.80,290.58 L433.40,290.58 L433.40,289.96 L434.00,289.96 L434.00,291.76 L434.60,291.76 L434.60,292.65 L435.20,292.65 L435.20,293.25 L435.80,293.25 L435.80,294.11 L436.40,294.11 L436.40,295.09 L437.00,295.09 L437.00,296.38 L437.60,296.38 L437.60,296.03 L438.20,296.03 L438.20,297.98 L438.80,297.98 L438.80,298.76 L439.40,298.76 L439.40,297.44 L440.00,297.44 L440.00,298.44 L440.60,298.44 L440.60,299.26 L441.20,299.26 L441.20,299.80 L441.80,299.80 L441.80,299.96 L442.40,299.96 L442.40,300.66 L443.00,300.66 L443.00,301.36 L443.60,301.36 L443.60,300.73 L444.20,300.73 L444.20,303.32 L444.80,303.32 L444.80,303.26 L445.40,303.26 L445.40,303.37 L446.00,303.37 L446.00,304.00 L446.60,304.00 L446.60,302.49 L447.20,302.49 L447.20,303.00 L447.80,303.00 L447.80,303.48 L448.40,303.48 L448.40,302.30 L449.00,302.30 L449.00,303.60 L449.60,303.60 L449.60,303.47 L450.20,303.47 L450.20,303.46 L450.80,303.46 L450.80,303.05 L451.40,303.05 L451.40,302.90 L452.00,302.90 L452.00,304.47 L452.60,304.47 L452.60,303.03 L453.20,303.03 L453.20,304.54 L453.80,304.54 L453.80,305.01 L454.40,305.01 L454.40,303.95 L455.00,303.95 L455.00,302.37 L455.60,302.37 L455.60,302.71 L456.20,302.71 L456.20,303.13 L456.80,303.13 L456.80,301.89 L457.40,301.89 L457.40,302.09 L458.00,302.09 L458.00,301.13 L458.60,301.13 L458.60,300.09 L459.20,300.09 L459.20,298.50 L459.80,298.50 L459.80,298.19 L460.40,298.19 L460.40,299.07 L461.00,299.07 L461.00,299.72 L461.60,299.72 L461.60,299.56 L462.20,299.56 L462.20,297.66 L462.80,297.66 L462.80,297.60 L463.40,297.60 L463.40,297.73 L464.00,297.73 L464.00,295.27 L464.60,295.27 L464.60,296.75 L465.20,296.75 L465.20,296.38 L465.80,296.38 L465.80,294.96 L466.40,294.96 L466.40,294.73 L467.00,294.73 L467.00,293.29 L467.60,293.29 L467.60,292.41 L468.20,292.41 L468.20,290.06 L468.80,290.06 L468.80,287.44 L469.40,287.44 L469.40,284.63 L470.00,284.63 L470.00,281.48 L470.60,281.48 L470.60,279.28 L471.20,279.28 L471.20,277.39 L471.80,277.39 L471.80,271.63 L472.40,271.63 L472.40,268.06 L473.00,268.06 L473.00,264.90 L473.60,264.90 L473.60,260.79 L474.20,260.79 L474.20,245.57 L474.80,245.57 L474.80,225.38 L475.40,225.38 L475.40,191.02 L476.00,191.02 L476.00,181.10 L476.60,181.10 L476.60,181.01 L477.20,181.01 L477.20,181.21 L477.80,181.21 L477.80,179.76 L478.40,179.76 L478.40,181.00 L479.00,181.00 L479.00,181.27 L479.60,181.27 L479.60,179.91 L480.20,179.91 L480.20,180.85 L480.80,180.85 L480.80,179.48 L481.40,179.48 L481.40,178.49 L482.00,178.49 L482.00,180.69 L482.60,180.69 L482.60,181.17 L483.20,181.17 L483.20,180.55 L483.80,180.55 L483.80,180.75 L484.40,180.75 L484.40,180.69 L485.00,180.69 L484.4,314.3 Z" fill="#d9392b"/>
<rect x="332.6" y="180.5" width="151.79999999999995" height="133.8" fill="none" stroke="#333" stroke-width="1.1"/>
<rect x="336.4" y="183" width="24.4" height="12.2" fill="#f5b8b0"/><rect x="336.4" y="196.4" width="24.4" height="11.5" fill="#f06b68"/><rect x="336.4" y="209.4" width="24.4" height="12.1" fill="#d9392b"/>
<text x="364" y="192.5" font-size="10.5" fill="#222">T2-TCNE</text><text x="364" y="205.8" font-size="10.5" fill="#222">T3-TCNE</text><text x="364" y="219" font-size="10.5" fill="#222">T4-TCNE</text>
<line x1="332.90" y1="314.3" x2="332.90" y2="319.8" stroke="#333" stroke-width="1.1"/><text x="325.20" y="333.3" font-size="10.5" fill="#222">10<tspan font-size="6.5" dy="-4.6">-7</tspan></text><line x1="353.67" y1="314.3" x2="353.67" y2="319.8" stroke="#333" stroke-width="1.1"/><text x="345.97" y="333.3" font-size="10.5" fill="#222">10<tspan font-size="6.5" dy="-4.6">-6</tspan></text><line x1="374.44" y1="314.3" x2="374.44" y2="319.8" stroke="#333" stroke-width="1.1"/><text x="366.74" y="333.3" font-size="10.5" fill="#222">10<tspan font-size="6.5" dy="-4.6">-5</tspan></text><line x1="395.21" y1="314.3" x2="395.21" y2="319.8" stroke="#333" stroke-width="1.1"/><text x="387.51" y="333.3" font-size="10.5" fill="#222">10<tspan font-size="6.5" dy="-4.6">-4</tspan></text><line x1="415.98" y1="314.3" x2="415.98" y2="319.8" stroke="#333" stroke-width="1.1"/><text x="408.28" y="333.3" font-size="10.5" fill="#222">10<tspan font-size="6.5" dy="-4.6">-3</tspan></text><line x1="436.75" y1="314.3" x2="436.75" y2="319.8" stroke="#333" stroke-width="1.1"/><text x="429.05" y="333.3" font-size="10.5" fill="#222">10<tspan font-size="6.5" dy="-4.6">-2</tspan></text><line x1="457.52" y1="314.3" x2="457.52" y2="319.8" stroke="#333" stroke-width="1.1"/><text x="449.82" y="333.3" font-size="10.5" fill="#222">10<tspan font-size="6.5" dy="-4.6">-1</tspan></text><line x1="478.29" y1="314.3" x2="478.29" y2="319.8" stroke="#333" stroke-width="1.1"/><text x="470.59" y="333.3" font-size="10.5" fill="#222">10<tspan font-size="6.5" dy="-4.6">0</tspan></text>
<text x="364.3" y="347.3" font-size="11" font-weight="bold" fill="#111">Conductance (G<tspan font-size="7" dy="2.2">0</tspan><tspan dy="-2.2">)</tspan></text>
<text transform="translate(325.3,277.6) rotate(-90)" font-size="10.3" font-weight="bold" fill="#111">Counts (a.u.)</text>
<text x="493.5" y="11.9" font-size="13.5" font-weight="bold" fill="#111">(e)</text>
<rect x="546.6" y="5.2" width="87.60000000000002" height="133.10000000000002" fill="none" stroke="#333" stroke-width="1.1"/>
<line x1="541.1" y1="39.50" x2="546.6" y2="39.50" stroke="#333" stroke-width="1"/><line x1="543.4" y1="26.10" x2="546.6" y2="26.10" stroke="#333" stroke-width="1"/><line x1="543.4" y1="18.27" x2="546.6" y2="18.27" stroke="#333" stroke-width="1"/><line x1="543.4" y1="12.71" x2="546.6" y2="12.71" stroke="#333" stroke-width="1"/><line x1="543.4" y1="8.40" x2="546.6" y2="8.40" stroke="#333" stroke-width="1"/><line x1="541.1" y1="84.00" x2="546.6" y2="84.00" stroke="#333" stroke-width="1"/><line x1="543.4" y1="70.60" x2="546.6" y2="70.60" stroke="#333" stroke-width="1"/><line x1="543.4" y1="62.77" x2="546.6" y2="62.77" stroke="#333" stroke-width="1"/><line x1="543.4" y1="57.21" x2="546.6" y2="57.21" stroke="#333" stroke-width="1"/><line x1="543.4" y1="52.90" x2="546.6" y2="52.90" stroke="#333" stroke-width="1"/><line x1="543.4" y1="49.37" x2="546.6" y2="49.37" stroke="#333" stroke-width="1"/><line x1="543.4" y1="46.39" x2="546.6" y2="46.39" stroke="#333" stroke-width="1"/><line x1="543.4" y1="43.81" x2="546.6" y2="43.81" stroke="#333" stroke-width="1"/><line x1="543.4" y1="41.54" x2="546.6" y2="41.54" stroke="#333" stroke-width="1"/><line x1="541.1" y1="128.50" x2="546.6" y2="128.50" stroke="#333" stroke-width="1"/><line x1="543.4" y1="115.10" x2="546.6" y2="115.10" stroke="#333" stroke-width="1"/><line x1="543.4" y1="107.27" x2="546.6" y2="107.27" stroke="#333" stroke-width="1"/><line x1="543.4" y1="101.71" x2="546.6" y2="101.71" stroke="#333" stroke-width="1"/><line x1="543.4" y1="97.40" x2="546.6" y2="97.40" stroke="#333" stroke-width="1"/><line x1="543.4" y1="93.87" x2="546.6" y2="93.87" stroke="#333" stroke-width="1"/><line x1="543.4" y1="90.89" x2="546.6" y2="90.89" stroke="#333" stroke-width="1"/><line x1="543.4" y1="88.31" x2="546.6" y2="88.31" stroke="#333" stroke-width="1"/><line x1="543.4" y1="86.04" x2="546.6" y2="86.04" stroke="#333" stroke-width="1"/><line x1="543.4" y1="138.37" x2="546.6" y2="138.37" stroke="#333" stroke-width="1"/><line x1="543.4" y1="135.39" x2="546.6" y2="135.39" stroke="#333" stroke-width="1"/><line x1="543.4" y1="132.81" x2="546.6" y2="132.81" stroke="#333" stroke-width="1"/><line x1="543.4" y1="130.54" x2="546.6" y2="130.54" stroke="#333" stroke-width="1"/>
<text x="524.2" y="43.3" font-size="10.5" fill="#222">10<tspan font-size="6.5" dy="-4.6">-3</tspan></text>
<text x="524.2" y="87.8" font-size="10.5" fill="#222">10<tspan font-size="6.5" dy="-4.6">-4</tspan></text>
<text x="524.2" y="132.3" font-size="10.5" fill="#222">10<tspan font-size="6.5" dy="-4.6">-5</tspan></text>
<line x1="549.70" y1="138.3" x2="549.70" y2="141.60000000000002" stroke="#333" stroke-width="1"/><line x1="559.80" y1="138.3" x2="559.80" y2="144.3" stroke="#333" stroke-width="1"/><line x1="569.90" y1="138.3" x2="569.90" y2="141.60000000000002" stroke="#333" stroke-width="1"/><line x1="580.00" y1="138.3" x2="580.00" y2="144.3" stroke="#333" stroke-width="1"/><line x1="590.10" y1="138.3" x2="590.10" y2="141.60000000000002" stroke="#333" stroke-width="1"/><line x1="600.20" y1="138.3" x2="600.20" y2="144.3" stroke="#333" stroke-width="1"/><line x1="610.30" y1="138.3" x2="610.30" y2="141.60000000000002" stroke="#333" stroke-width="1"/><line x1="620.40" y1="138.3" x2="620.40" y2="144.3" stroke="#333" stroke-width="1"/><line x1="630.50" y1="138.3" x2="630.50" y2="141.60000000000002" stroke="#333" stroke-width="1"/>
<text x="559.8" y="156.3" font-size="10.2" fill="#222" text-anchor="middle">0.9</text>
<text x="580.0" y="156.3" font-size="10.2" fill="#222" text-anchor="middle">1.2</text>
<text x="600.2" y="156.3" font-size="10.2" fill="#222" text-anchor="middle">1.5</text>
<text x="620.4" y="156.3" font-size="10.2" fill="#222" text-anchor="middle">1.8</text>
<text x="549.5" y="171" font-size="10.85" font-weight="bold" fill="#111">Length (nm)</text>
<text transform="translate(514,119.6) rotate(-90)" font-size="10.5" font-weight="bold" fill="#111">Conductance (G<tspan font-size="7" dy="2.2">0</tspan><tspan dy="-2.2">)</tspan></text>
<path d="M567.4,13.5 L620.1,41.1" stroke="#e8483a" stroke-width="1.6"/>
<path d="M593.4,26 L593.4,40 M589.9,26 L596.9,26 M589.9,40 L596.9,40 M620.1,33 L620.1,49.9 M617,33 L623.5,33 M617,49.9 L623.5,49.9" stroke="#ee6e68" stroke-width="1.2"/>
<circle cx="567.1" cy="13.2" r="3.9" fill="#ee6e68"/><circle cx="593.4" cy="31.8" r="3.7" fill="#ee6e68"/><circle cx="620.1" cy="39.6" r="3.7" fill="#ee6e68"/>
<path d="M566.6,44.1 L620.4,115.9" stroke="#0f5ea8" stroke-width="1.6"/>
<path d="M619.9,115 L619.9,128.3 M617,115 L623.3,115 M617,128.3 L623.3,128.3" stroke="#49ade6" stroke-width="1.2"/>
<rect x="563.9" y="41.4" width="5.5" height="5.5" fill="#49ade6"/><rect x="590.6" y="74.3" width="6" height="6" fill="#49ade6"/><rect x="616.9" y="117.7" width="6" height="6" fill="#49ade6"/>
<text x="490.3" y="181.5" font-size="13.5" font-weight="bold" fill="#111">(f)</text>
<rect x="531.7" y="183.0" width="115.89999999999998" height="130.5" fill="none" stroke="#333" stroke-width="1.1"/>
<line x1="525.4" y1="190.20" x2="531.7" y2="190.20" stroke="#333" stroke-width="1.1"/><text x="506.3" y="194.8" font-size="10.5" fill="#222">10<tspan font-size="6.5" dy="-4.6">0</tspan></text><line x1="525.4" y1="213.86" x2="531.7" y2="213.86" stroke="#333" stroke-width="1.1"/><text x="504.8" y="218.5" font-size="10.5" fill="#222">10<tspan font-size="6.5" dy="-4.6">-1</tspan></text><line x1="525.4" y1="237.52" x2="531.7" y2="237.52" stroke="#333" stroke-width="1.1"/><text x="504.8" y="242.1" font-size="10.5" fill="#222">10<tspan font-size="6.5" dy="-4.6">-2</tspan></text><line x1="525.4" y1="261.18" x2="531.7" y2="261.18" stroke="#333" stroke-width="1.1"/><text x="504.8" y="265.8" font-size="10.5" fill="#222">10<tspan font-size="6.5" dy="-4.6">-3</tspan></text><line x1="525.4" y1="284.84" x2="531.7" y2="284.84" stroke="#333" stroke-width="1.1"/><text x="504.8" y="289.4" font-size="10.5" fill="#222">10<tspan font-size="6.5" dy="-4.6">-4</tspan></text><line x1="525.4" y1="308.50" x2="531.7" y2="308.50" stroke="#333" stroke-width="1.1"/><text x="504.8" y="313.1" font-size="10.5" fill="#222">10<tspan font-size="6.5" dy="-4.6">-5</tspan></text>
<line x1="531.80" y1="313.5" x2="531.80" y2="319.5" stroke="#333" stroke-width="1.1"/><line x1="560.65" y1="313.5" x2="560.65" y2="316.8" stroke="#333" stroke-width="1.1"/><line x1="589.50" y1="313.5" x2="589.50" y2="319.5" stroke="#333" stroke-width="1.1"/><line x1="618.35" y1="313.5" x2="618.35" y2="316.8" stroke="#333" stroke-width="1.1"/><line x1="647.20" y1="313.5" x2="647.20" y2="319.5" stroke="#333" stroke-width="1.1"/>
<text x="530.8" y="332.6" font-size="10.5" fill="#222" text-anchor="middle">-1</text><text x="589.4" y="332.6" font-size="10.5" fill="#222" text-anchor="middle">0</text><text x="646" y="332.6" font-size="10.5" fill="#222">1</text>
<text x="565.8" y="345.3" font-size="11" font-weight="bold" fill="#111">E-E<tspan font-size="7.5" dy="2.3">F</tspan><tspan font-size="7.5" dx="0.6" dy="-6.8">0</tspan><tspan dy="4.5" dx="1.5">(eV)</tspan></text>
<text transform="translate(501.3,265) rotate(-90)" font-size="10.3" font-weight="bold" fill="#111">G/G<tspan font-size="7" dy="2.2">0</tspan></text>
<line x1="532.6" y1="190.2" x2="557.9" y2="190.2" stroke="#111" stroke-width="2"/><line x1="532.6" y1="203.8" x2="557.9" y2="203.8" stroke="#4a9fd6" stroke-width="2"/>
<text x="561" y="194.8" font-size="10.5" fill="#222">T4</text><text x="561" y="207.7" font-size="10.5" fill="#222">T4:TCNE</text>
<path d="M531.70,213.50 C532.00,213.83 532.97,214.23 533.50,215.50 C534.03,216.77 534.37,217.47 534.90,221.10 C535.43,224.73 536.08,231.67 536.70,237.30 C537.32,242.93 537.45,249.90 538.60,254.90 C539.75,259.90 541.73,263.78 543.60,267.30 C545.47,270.82 547.73,273.62 549.80,276.00 C551.87,278.38 553.73,279.38 556.00,281.60 C558.27,283.82 561.13,287.50 563.40,289.30 C565.67,291.10 566.50,291.30 569.60,292.40 C572.70,293.50 578.48,295.18 582.00,295.90 C585.52,296.62 587.80,296.97 590.70,296.70 C593.60,296.43 596.80,295.47 599.40,294.30 C602.00,293.13 603.75,291.63 606.30,289.70 C608.85,287.77 612.15,286.28 614.70,282.70 C617.25,279.12 619.67,272.82 621.60,268.20 C623.53,263.58 625.23,260.83 626.30,255.00 C627.37,249.17 627.38,238.70 628.00,233.20 C628.62,227.70 629.33,224.35 630.00,222.00 C630.67,219.65 631.33,219.10 632.00,219.10 C632.67,219.10 633.37,219.65 634.00,222.00 C634.63,224.35 635.15,227.70 635.80,233.20 C636.45,238.70 636.92,249.80 637.90,255.00 C638.88,260.20 640.10,261.40 641.70,264.40 C643.30,267.40 646.53,271.57 647.50,273.00 " stroke="#111" stroke-width="2" fill="none"/>
<path d="M531.70,247.80 C532.43,245.63 534.88,238.77 536.10,234.80 C537.32,230.83 537.97,226.80 539.00,224.00 C540.03,221.20 541.30,218.33 542.30,218.00 C543.30,217.67 544.27,220.03 545.00,222.00 C545.73,223.97 545.90,225.30 546.70,229.80 C547.50,234.30 548.87,242.75 549.80,249.00 C550.73,255.25 551.07,262.38 552.30,267.30 C553.53,272.22 555.35,274.73 557.20,278.50 C559.05,282.27 560.92,286.55 563.40,289.90 C565.88,293.25 569.20,296.32 572.10,298.60 C575.00,300.88 578.83,302.67 580.80,303.60 C582.77,304.53 583.18,305.03 583.90,304.20 C584.62,303.37 584.68,302.63 585.10,298.60 C585.52,294.57 586.00,285.60 586.40,280.00 C586.80,274.40 586.88,268.25 587.50,265.00 C588.12,261.75 589.27,260.50 590.10,260.50 C590.93,260.50 591.80,261.08 592.50,265.00 C593.20,268.92 593.67,277.98 594.30,284.00 C594.93,290.02 595.37,297.57 596.30,301.10 C597.23,304.63 598.70,308.05 599.90,305.20 C601.10,302.35 602.57,289.87 603.50,284.00 C604.43,278.13 604.63,273.43 605.50,270.00 C606.37,266.57 607.75,263.40 608.70,263.40 C609.65,263.40 610.43,266.55 611.20,270.00 C611.97,273.45 612.48,279.63 613.30,284.10 C614.12,288.57 615.15,294.33 616.10,296.80 C617.05,299.27 617.58,299.37 619.00,298.90 C620.42,298.43 622.85,296.93 624.60,294.00 C626.35,291.07 627.98,285.30 629.50,281.30 C631.02,277.30 632.78,273.78 633.70,270.00 C634.62,266.22 634.38,261.60 635.00,258.60 C635.62,255.60 636.92,254.13 637.40,252.00 C637.88,249.87 637.38,249.13 637.90,245.80 C638.42,242.47 639.52,235.23 640.50,232.00 C641.48,228.77 642.88,226.73 643.80,226.40 C644.72,226.07 645.38,228.05 646.00,230.00 C646.62,231.95 647.25,236.75 647.50,238.10 " stroke="#4a9fd6" stroke-width="2" fill="none"/>
</svg></body></html>
